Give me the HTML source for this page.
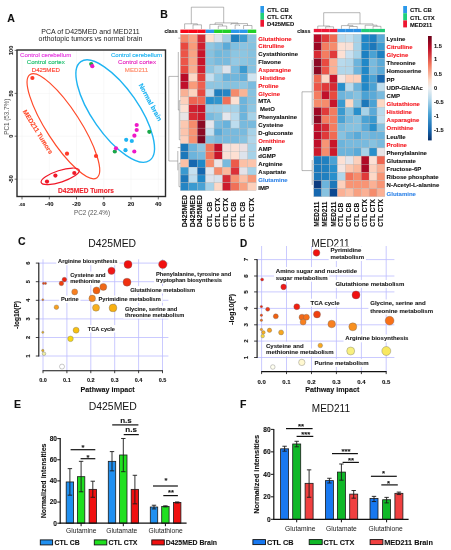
<!DOCTYPE html>
<html lang="en"><head><meta charset="utf-8"><title>Figure</title>
<style>html,body{margin:0;padding:0;background:#fff}body{width:451px;height:550px;overflow:hidden}svg{display:block;filter:blur(0.4px);font-family:'Liberation Sans', sans-serif}</style>
</head><body>
<svg width="451" height="550" viewBox="0 0 451 550">
<rect width="451" height="550" fill="#fff"/>
<text x="7.3" y="21.7" font-size="10.5" fill="#111" font-weight="bold" text-anchor="start" stroke="#111" stroke-width="0.1">A</text>
<text x="90.5" y="33.8" font-size="7" fill="#222" font-weight="normal" text-anchor="middle">PCA of D425MED and MED211</text>
<text x="90.5" y="41.3" font-size="7" fill="#222" font-weight="normal" text-anchor="middle">orthotopic tumors vs normal brain</text>
<line x1="22" y1="50" x2="22" y2="196.5" stroke="#f0f0f0" stroke-width="0.5"/>
<line x1="49.3" y1="50" x2="49.3" y2="196.5" stroke="#f0f0f0" stroke-width="0.5"/>
<line x1="76.5" y1="50" x2="76.5" y2="196.5" stroke="#f0f0f0" stroke-width="0.5"/>
<line x1="103.8" y1="50" x2="103.8" y2="196.5" stroke="#f0f0f0" stroke-width="0.5"/>
<line x1="131" y1="50" x2="131" y2="196.5" stroke="#f0f0f0" stroke-width="0.5"/>
<line x1="158.3" y1="50" x2="158.3" y2="196.5" stroke="#f0f0f0" stroke-width="0.5"/>
<line x1="17" y1="50.4" x2="165.5" y2="50.4" stroke="#f0f0f0" stroke-width="0.5"/>
<line x1="17" y1="93.4" x2="165.5" y2="93.4" stroke="#f0f0f0" stroke-width="0.5"/>
<line x1="17" y1="136.2" x2="165.5" y2="136.2" stroke="#f0f0f0" stroke-width="0.5"/>
<line x1="17" y1="179.2" x2="165.5" y2="179.2" stroke="#f0f0f0" stroke-width="0.5"/>
<ellipse cx="115.2" cy="111.1" rx="60.2" ry="23.1" fill="none" stroke="#1fb4f2" stroke-width="1.4" transform="rotate(55.2 115.2 111.1)"/>
<ellipse cx="63.4" cy="126.2" rx="61.5" ry="17" fill="none" stroke="#ff4a2a" stroke-width="1.2" transform="rotate(57.2 63.4 126.2)"/>
<ellipse cx="60.2" cy="176.3" rx="20" ry="5.8" fill="none" stroke="#f01828" stroke-width="1.2" transform="rotate(-18 60.2 176.3)"/>
<rect x="17.00" y="50.00" width="148.50" height="146.50" fill="none" stroke="#2a2a2a" stroke-width="1.4"/>
<line x1="22" y1="197" x2="22" y2="199.4" stroke="#333" stroke-width="0.7"/>
<text x="22" y="205.6" font-size="4.4" fill="#222" font-weight="bold" text-anchor="middle" stroke="#222" stroke-width="0.1">-60</text>
<line x1="49.3" y1="197" x2="49.3" y2="199.4" stroke="#333" stroke-width="0.7"/>
<text x="49.3" y="206.4" font-size="5.9" fill="#222" font-weight="bold" text-anchor="middle" stroke="#222" stroke-width="0.1">-40</text>
<line x1="76.5" y1="197" x2="76.5" y2="199.4" stroke="#333" stroke-width="0.7"/>
<text x="76.5" y="206.4" font-size="5.9" fill="#222" font-weight="bold" text-anchor="middle" stroke="#222" stroke-width="0.1">-20</text>
<line x1="103.8" y1="197" x2="103.8" y2="199.4" stroke="#333" stroke-width="0.7"/>
<text x="103.8" y="206.4" font-size="5.9" fill="#222" font-weight="bold" text-anchor="middle" stroke="#222" stroke-width="0.1">0</text>
<line x1="131" y1="197" x2="131" y2="199.4" stroke="#333" stroke-width="0.7"/>
<text x="131" y="206.4" font-size="5.9" fill="#222" font-weight="bold" text-anchor="middle" stroke="#222" stroke-width="0.1">20</text>
<line x1="158.3" y1="197" x2="158.3" y2="199.4" stroke="#333" stroke-width="0.7"/>
<text x="158.3" y="206.4" font-size="5.9" fill="#222" font-weight="bold" text-anchor="middle" stroke="#222" stroke-width="0.1">40</text>
<line x1="14.6" y1="50.4" x2="17" y2="50.4" stroke="#333" stroke-width="0.7"/>
<text x="13.5" y="50.4" font-size="5.6" fill="#222" font-weight="bold" text-anchor="middle" transform="rotate(-90 13.5 50.4)" stroke="#222" stroke-width="0.1">100</text>
<line x1="14.6" y1="93.4" x2="17" y2="93.4" stroke="#333" stroke-width="0.7"/>
<text x="13.5" y="93.4" font-size="5.6" fill="#222" font-weight="bold" text-anchor="middle" transform="rotate(-90 13.5 93.4)" stroke="#222" stroke-width="0.1">50</text>
<line x1="14.6" y1="136.2" x2="17" y2="136.2" stroke="#333" stroke-width="0.7"/>
<text x="13.5" y="136.2" font-size="5.6" fill="#222" font-weight="bold" text-anchor="middle" transform="rotate(-90 13.5 136.2)" stroke="#222" stroke-width="0.1">0</text>
<line x1="14.6" y1="179.2" x2="17" y2="179.2" stroke="#333" stroke-width="0.7"/>
<text x="13.5" y="179.2" font-size="5.6" fill="#222" font-weight="bold" text-anchor="middle" transform="rotate(-90 13.5 179.2)" stroke="#222" stroke-width="0.1">-50</text>
<text x="9.3" y="116.8" font-size="6.3" fill="#555" font-weight="normal" text-anchor="middle" transform="rotate(-90 9.3 116.8)">PC1 (53.7%)</text>
<text x="92" y="215.2" font-size="6.3" fill="#555" font-weight="normal" text-anchor="middle">PC2 (22.4%)</text>
<text x="45.7" y="56.8" font-size="6.1" fill="#e63ce0" font-weight="normal" text-anchor="middle" stroke="#e63ce0" stroke-width="0.15">Control cerebellum</text>
<text x="45.8" y="64.2" font-size="6.1" fill="#1fc070" font-weight="normal" text-anchor="middle" stroke="#1fc070" stroke-width="0.15">Control cortex</text>
<text x="45.8" y="71.8" font-size="6.1" fill="#ff4030" font-weight="normal" text-anchor="middle" stroke="#ff4030" stroke-width="0.15">D425MED</text>
<text x="136.5" y="57.1" font-size="6.1" fill="#1fb4f2" font-weight="normal" text-anchor="middle" stroke="#1fb4f2" stroke-width="0.15">Control cerebellum</text>
<text x="137" y="64.4" font-size="6.1" fill="#e628c0" font-weight="normal" text-anchor="middle" stroke="#e628c0" stroke-width="0.15">Control cortex</text>
<text x="136.5" y="71.5" font-size="6.1" fill="#ff8a68" font-weight="normal" text-anchor="middle" stroke="#ff8a68" stroke-width="0.15">MED211</text>
<text x="138.4" y="85.0" font-size="6.75" fill="#1fb4f2" font-weight="bold" text-anchor="start" transform="rotate(61.5 138.4 85.0)" stroke="#1fb4f2" stroke-width="0.1">Normal brain</text>
<text x="22.5" y="111.5" font-size="6.6" fill="#ff4a2a" font-weight="bold" text-anchor="start" transform="rotate(58 22.5 111.5)" stroke="#ff4a2a" stroke-width="0.1">MED211 Tumors</text>
<text x="58" y="192.6" font-size="6.6" fill="#f0202a" font-weight="bold" text-anchor="start" stroke="#f0202a" stroke-width="0.1">D425MED Tumors</text>
<circle cx="32.4" cy="78" r="2.1" fill="#ff3a28"/>
<circle cx="67" cy="153.7" r="2.1" fill="#ff3a28"/>
<circle cx="96" cy="156" r="2.1" fill="#ff3a28"/>
<circle cx="47" cy="181.6" r="2.1" fill="#f01828"/>
<circle cx="55.4" cy="175.6" r="2.1" fill="#f01828"/>
<circle cx="74.3" cy="173" r="2.1" fill="#f01828"/>
<circle cx="91.2" cy="64" r="2.1" fill="#18a848"/>
<circle cx="149.3" cy="131.8" r="2.1" fill="#18a848"/>
<circle cx="114.8" cy="151.5" r="2.1" fill="#18a848"/>
<circle cx="92.3" cy="66.2" r="2.1" fill="#ee18c8"/>
<circle cx="136.7" cy="125" r="2.1" fill="#ee18c8"/>
<circle cx="136.7" cy="130" r="2.1" fill="#ee18c8"/>
<circle cx="134.4" cy="135.7" r="2.1" fill="#ee18c8"/>
<circle cx="116" cy="148.3" r="2.1" fill="#ee18c8"/>
<circle cx="134.3" cy="151.5" r="2.1" fill="#ee18c8"/>
<circle cx="126.2" cy="139.8" r="2.1" fill="#1fb4f2"/>
<circle cx="131.8" cy="141" r="2.1" fill="#1fb4f2"/>
<circle cx="125.5" cy="150.2" r="2.1" fill="#1fb4f2"/>
<text x="160.2" y="18.1" font-size="10.5" fill="#111" font-weight="bold" text-anchor="start" stroke="#111" stroke-width="0.1">B</text>
<rect x="180.40" y="34.40" width="8.42" height="7.81" fill="#f4876a" stroke="#b4b4b4" stroke-width="0.3"/>
<rect x="188.82" y="34.40" width="8.42" height="7.81" fill="#f9a384" stroke="#b4b4b4" stroke-width="0.3"/>
<rect x="197.24" y="34.40" width="8.42" height="7.81" fill="#d42a35" stroke="#b4b4b4" stroke-width="0.3"/>
<rect x="205.66" y="34.40" width="8.42" height="7.81" fill="#fde0d0" stroke="#b4b4b4" stroke-width="0.3"/>
<rect x="214.08" y="34.40" width="8.42" height="7.81" fill="#dde3ec" stroke="#b4b4b4" stroke-width="0.3"/>
<rect x="222.50" y="34.40" width="8.42" height="7.81" fill="#a6cfe6" stroke="#b4b4b4" stroke-width="0.3"/>
<rect x="230.92" y="34.40" width="8.42" height="7.81" fill="#1f7fbf" stroke="#b4b4b4" stroke-width="0.3"/>
<rect x="239.34" y="34.40" width="8.42" height="7.81" fill="#3d9bd0" stroke="#b4b4b4" stroke-width="0.3"/>
<rect x="247.76" y="34.40" width="8.42" height="7.81" fill="#8cc4e1" stroke="#b4b4b4" stroke-width="0.3"/>
<rect x="180.40" y="42.21" width="8.42" height="7.81" fill="#e8473f" stroke="#b4b4b4" stroke-width="0.3"/>
<rect x="188.82" y="42.21" width="8.42" height="7.81" fill="#f99b7a" stroke="#b4b4b4" stroke-width="0.3"/>
<rect x="197.24" y="42.21" width="8.42" height="7.81" fill="#cf1f2e" stroke="#b4b4b4" stroke-width="0.3"/>
<rect x="205.66" y="42.21" width="8.42" height="7.81" fill="#8ec6e2" stroke="#b4b4b4" stroke-width="0.3"/>
<rect x="214.08" y="42.21" width="8.42" height="7.81" fill="#7fbde0" stroke="#b4b4b4" stroke-width="0.3"/>
<rect x="222.50" y="42.21" width="8.42" height="7.81" fill="#5aaad8" stroke="#b4b4b4" stroke-width="0.3"/>
<rect x="230.92" y="42.21" width="8.42" height="7.81" fill="#7fbfe0" stroke="#b4b4b4" stroke-width="0.3"/>
<rect x="239.34" y="42.21" width="8.42" height="7.81" fill="#8ac4e2" stroke="#b4b4b4" stroke-width="0.3"/>
<rect x="247.76" y="42.21" width="8.42" height="7.81" fill="#86c2e0" stroke="#b4b4b4" stroke-width="0.3"/>
<rect x="180.40" y="50.02" width="8.42" height="7.81" fill="#ec5548" stroke="#b4b4b4" stroke-width="0.3"/>
<rect x="188.82" y="50.02" width="8.42" height="7.81" fill="#f9a384" stroke="#b4b4b4" stroke-width="0.3"/>
<rect x="197.24" y="50.02" width="8.42" height="7.81" fill="#c8142a" stroke="#b4b4b4" stroke-width="0.3"/>
<rect x="205.66" y="50.02" width="8.42" height="7.81" fill="#86c2e0" stroke="#b4b4b4" stroke-width="0.3"/>
<rect x="214.08" y="50.02" width="8.42" height="7.81" fill="#70b8dc" stroke="#b4b4b4" stroke-width="0.3"/>
<rect x="222.50" y="50.02" width="8.42" height="7.81" fill="#78bade" stroke="#b4b4b4" stroke-width="0.3"/>
<rect x="230.92" y="50.02" width="8.42" height="7.81" fill="#8cc6e2" stroke="#b4b4b4" stroke-width="0.3"/>
<rect x="239.34" y="50.02" width="8.42" height="7.81" fill="#8cc6e2" stroke="#b4b4b4" stroke-width="0.3"/>
<rect x="247.76" y="50.02" width="8.42" height="7.81" fill="#86c2e0" stroke="#b4b4b4" stroke-width="0.3"/>
<rect x="180.40" y="57.83" width="8.42" height="7.81" fill="#ec5548" stroke="#b4b4b4" stroke-width="0.3"/>
<rect x="188.82" y="57.83" width="8.42" height="7.81" fill="#f9a888" stroke="#b4b4b4" stroke-width="0.3"/>
<rect x="197.24" y="57.83" width="8.42" height="7.81" fill="#c8142a" stroke="#b4b4b4" stroke-width="0.3"/>
<rect x="205.66" y="57.83" width="8.42" height="7.81" fill="#86c2e0" stroke="#b4b4b4" stroke-width="0.3"/>
<rect x="214.08" y="57.83" width="8.42" height="7.81" fill="#78bade" stroke="#b4b4b4" stroke-width="0.3"/>
<rect x="222.50" y="57.83" width="8.42" height="7.81" fill="#78bade" stroke="#b4b4b4" stroke-width="0.3"/>
<rect x="230.92" y="57.83" width="8.42" height="7.81" fill="#94c9e4" stroke="#b4b4b4" stroke-width="0.3"/>
<rect x="239.34" y="57.83" width="8.42" height="7.81" fill="#8cc6e2" stroke="#b4b4b4" stroke-width="0.3"/>
<rect x="247.76" y="57.83" width="8.42" height="7.81" fill="#86c2e0" stroke="#b4b4b4" stroke-width="0.3"/>
<rect x="180.40" y="65.64" width="8.42" height="7.81" fill="#e84a40" stroke="#b4b4b4" stroke-width="0.3"/>
<rect x="188.82" y="65.64" width="8.42" height="7.81" fill="#f9ae90" stroke="#b4b4b4" stroke-width="0.3"/>
<rect x="197.24" y="65.64" width="8.42" height="7.81" fill="#d02030" stroke="#b4b4b4" stroke-width="0.3"/>
<rect x="205.66" y="65.64" width="8.42" height="7.81" fill="#8ec6e2" stroke="#b4b4b4" stroke-width="0.3"/>
<rect x="214.08" y="65.64" width="8.42" height="7.81" fill="#a8d2e8" stroke="#b4b4b4" stroke-width="0.3"/>
<rect x="222.50" y="65.64" width="8.42" height="7.81" fill="#dde3ec" stroke="#b4b4b4" stroke-width="0.3"/>
<rect x="230.92" y="65.64" width="8.42" height="7.81" fill="#7abce0" stroke="#b4b4b4" stroke-width="0.3"/>
<rect x="239.34" y="65.64" width="8.42" height="7.81" fill="#3a9ad0" stroke="#b4b4b4" stroke-width="0.3"/>
<rect x="247.76" y="65.64" width="8.42" height="7.81" fill="#86c2e0" stroke="#b4b4b4" stroke-width="0.3"/>
<rect x="180.40" y="73.45" width="8.42" height="7.81" fill="#b80a28" stroke="#b4b4b4" stroke-width="0.3"/>
<rect x="188.82" y="73.45" width="8.42" height="7.81" fill="#fdd8c6" stroke="#b4b4b4" stroke-width="0.3"/>
<rect x="197.24" y="73.45" width="8.42" height="7.81" fill="#e0403c" stroke="#b4b4b4" stroke-width="0.3"/>
<rect x="205.66" y="73.45" width="8.42" height="7.81" fill="#c4dff0" stroke="#b4b4b4" stroke-width="0.3"/>
<rect x="214.08" y="73.45" width="8.42" height="7.81" fill="#90c8e4" stroke="#b4b4b4" stroke-width="0.3"/>
<rect x="222.50" y="73.45" width="8.42" height="7.81" fill="#68b2dc" stroke="#b4b4b4" stroke-width="0.3"/>
<rect x="230.92" y="73.45" width="8.42" height="7.81" fill="#70b6dc" stroke="#b4b4b4" stroke-width="0.3"/>
<rect x="239.34" y="73.45" width="8.42" height="7.81" fill="#60aeda" stroke="#b4b4b4" stroke-width="0.3"/>
<rect x="247.76" y="73.45" width="8.42" height="7.81" fill="#d0e4f0" stroke="#b4b4b4" stroke-width="0.3"/>
<rect x="180.40" y="81.26" width="8.42" height="7.81" fill="#c0102a" stroke="#b4b4b4" stroke-width="0.3"/>
<rect x="188.82" y="81.26" width="8.42" height="7.81" fill="#f99b7a" stroke="#b4b4b4" stroke-width="0.3"/>
<rect x="197.24" y="81.26" width="8.42" height="7.81" fill="#ee6050" stroke="#b4b4b4" stroke-width="0.3"/>
<rect x="205.66" y="81.26" width="8.42" height="7.81" fill="#8ec6e2" stroke="#b4b4b4" stroke-width="0.3"/>
<rect x="214.08" y="81.26" width="8.42" height="7.81" fill="#8ec6e2" stroke="#b4b4b4" stroke-width="0.3"/>
<rect x="222.50" y="81.26" width="8.42" height="7.81" fill="#86c2e0" stroke="#b4b4b4" stroke-width="0.3"/>
<rect x="230.92" y="81.26" width="8.42" height="7.81" fill="#86c2e0" stroke="#b4b4b4" stroke-width="0.3"/>
<rect x="239.34" y="81.26" width="8.42" height="7.81" fill="#8ec6e2" stroke="#b4b4b4" stroke-width="0.3"/>
<rect x="247.76" y="81.26" width="8.42" height="7.81" fill="#7abce0" stroke="#b4b4b4" stroke-width="0.3"/>
<rect x="180.40" y="89.07" width="8.42" height="7.81" fill="#f9b094" stroke="#b4b4b4" stroke-width="0.3"/>
<rect x="188.82" y="89.07" width="8.42" height="7.81" fill="#fcd4c0" stroke="#b4b4b4" stroke-width="0.3"/>
<rect x="197.24" y="89.07" width="8.42" height="7.81" fill="#e64840" stroke="#b4b4b4" stroke-width="0.3"/>
<rect x="205.66" y="89.07" width="8.42" height="7.81" fill="#c0dcee" stroke="#b4b4b4" stroke-width="0.3"/>
<rect x="214.08" y="89.07" width="8.42" height="7.81" fill="#1f7fbf" stroke="#b4b4b4" stroke-width="0.3"/>
<rect x="222.50" y="89.07" width="8.42" height="7.81" fill="#2585c4" stroke="#b4b4b4" stroke-width="0.3"/>
<rect x="230.92" y="89.07" width="8.42" height="7.81" fill="#f48a6c" stroke="#b4b4b4" stroke-width="0.3"/>
<rect x="239.34" y="89.07" width="8.42" height="7.81" fill="#f9b496" stroke="#b4b4b4" stroke-width="0.3"/>
<rect x="247.76" y="89.07" width="8.42" height="7.81" fill="#86c2e0" stroke="#b4b4b4" stroke-width="0.3"/>
<rect x="180.40" y="96.88" width="8.42" height="7.81" fill="#fdd0bc" stroke="#b4b4b4" stroke-width="0.3"/>
<rect x="188.82" y="96.88" width="8.42" height="7.81" fill="#ee6452" stroke="#b4b4b4" stroke-width="0.3"/>
<rect x="197.24" y="96.88" width="8.42" height="7.81" fill="#f06a56" stroke="#b4b4b4" stroke-width="0.3"/>
<rect x="205.66" y="96.88" width="8.42" height="7.81" fill="#2890cc" stroke="#b4b4b4" stroke-width="0.3"/>
<rect x="214.08" y="96.88" width="8.42" height="7.81" fill="#3096ce" stroke="#b4b4b4" stroke-width="0.3"/>
<rect x="222.50" y="96.88" width="8.42" height="7.81" fill="#f07058" stroke="#b4b4b4" stroke-width="0.3"/>
<rect x="230.92" y="96.88" width="8.42" height="7.81" fill="#fde0d2" stroke="#b4b4b4" stroke-width="0.3"/>
<rect x="239.34" y="96.88" width="8.42" height="7.81" fill="#6cb4dc" stroke="#b4b4b4" stroke-width="0.3"/>
<rect x="247.76" y="96.88" width="8.42" height="7.81" fill="#86c2e0" stroke="#b4b4b4" stroke-width="0.3"/>
<rect x="180.40" y="104.69" width="8.42" height="7.81" fill="#fde0d2" stroke="#b4b4b4" stroke-width="0.3"/>
<rect x="188.82" y="104.69" width="8.42" height="7.81" fill="#d02030" stroke="#b4b4b4" stroke-width="0.3"/>
<rect x="197.24" y="104.69" width="8.42" height="7.81" fill="#c8142a" stroke="#b4b4b4" stroke-width="0.3"/>
<rect x="205.66" y="104.69" width="8.42" height="7.81" fill="#9ccde6" stroke="#b4b4b4" stroke-width="0.3"/>
<rect x="214.08" y="104.69" width="8.42" height="7.81" fill="#9ccde6" stroke="#b4b4b4" stroke-width="0.3"/>
<rect x="222.50" y="104.69" width="8.42" height="7.81" fill="#a6d2e8" stroke="#b4b4b4" stroke-width="0.3"/>
<rect x="230.92" y="104.69" width="8.42" height="7.81" fill="#a6d2e8" stroke="#b4b4b4" stroke-width="0.3"/>
<rect x="239.34" y="104.69" width="8.42" height="7.81" fill="#6cb4dc" stroke="#b4b4b4" stroke-width="0.3"/>
<rect x="247.76" y="104.69" width="8.42" height="7.81" fill="#8ec6e2" stroke="#b4b4b4" stroke-width="0.3"/>
<rect x="180.40" y="112.50" width="8.42" height="7.81" fill="#e8e4e6" stroke="#b4b4b4" stroke-width="0.3"/>
<rect x="188.82" y="112.50" width="8.42" height="7.81" fill="#d62a34" stroke="#b4b4b4" stroke-width="0.3"/>
<rect x="197.24" y="112.50" width="8.42" height="7.81" fill="#cc1a2c" stroke="#b4b4b4" stroke-width="0.3"/>
<rect x="205.66" y="112.50" width="8.42" height="7.81" fill="#78bade" stroke="#b4b4b4" stroke-width="0.3"/>
<rect x="214.08" y="112.50" width="8.42" height="7.81" fill="#86c2e0" stroke="#b4b4b4" stroke-width="0.3"/>
<rect x="222.50" y="112.50" width="8.42" height="7.81" fill="#e4e6ec" stroke="#b4b4b4" stroke-width="0.3"/>
<rect x="230.92" y="112.50" width="8.42" height="7.81" fill="#b8daec" stroke="#b4b4b4" stroke-width="0.3"/>
<rect x="239.34" y="112.50" width="8.42" height="7.81" fill="#6cb4dc" stroke="#b4b4b4" stroke-width="0.3"/>
<rect x="247.76" y="112.50" width="8.42" height="7.81" fill="#a6d2e8" stroke="#b4b4b4" stroke-width="0.3"/>
<rect x="180.40" y="120.31" width="8.42" height="7.81" fill="#fcc8b0" stroke="#b4b4b4" stroke-width="0.3"/>
<rect x="188.82" y="120.31" width="8.42" height="7.81" fill="#f68c6c" stroke="#b4b4b4" stroke-width="0.3"/>
<rect x="197.24" y="120.31" width="8.42" height="7.81" fill="#8c0a24" stroke="#b4b4b4" stroke-width="0.3"/>
<rect x="205.66" y="120.31" width="8.42" height="7.81" fill="#e4e6ec" stroke="#b4b4b4" stroke-width="0.3"/>
<rect x="214.08" y="120.31" width="8.42" height="7.81" fill="#78bade" stroke="#b4b4b4" stroke-width="0.3"/>
<rect x="222.50" y="120.31" width="8.42" height="7.81" fill="#68b2dc" stroke="#b4b4b4" stroke-width="0.3"/>
<rect x="230.92" y="120.31" width="8.42" height="7.81" fill="#bcdcee" stroke="#b4b4b4" stroke-width="0.3"/>
<rect x="239.34" y="120.31" width="8.42" height="7.81" fill="#78bade" stroke="#b4b4b4" stroke-width="0.3"/>
<rect x="247.76" y="120.31" width="8.42" height="7.81" fill="#78bade" stroke="#b4b4b4" stroke-width="0.3"/>
<rect x="180.40" y="128.12" width="8.42" height="7.81" fill="#fcc4ac" stroke="#b4b4b4" stroke-width="0.3"/>
<rect x="188.82" y="128.12" width="8.42" height="7.81" fill="#f89474" stroke="#b4b4b4" stroke-width="0.3"/>
<rect x="197.24" y="128.12" width="8.42" height="7.81" fill="#8c0a24" stroke="#b4b4b4" stroke-width="0.3"/>
<rect x="205.66" y="128.12" width="8.42" height="7.81" fill="#c4e0f0" stroke="#b4b4b4" stroke-width="0.3"/>
<rect x="214.08" y="128.12" width="8.42" height="7.81" fill="#5aaad8" stroke="#b4b4b4" stroke-width="0.3"/>
<rect x="222.50" y="128.12" width="8.42" height="7.81" fill="#78bade" stroke="#b4b4b4" stroke-width="0.3"/>
<rect x="230.92" y="128.12" width="8.42" height="7.81" fill="#78bade" stroke="#b4b4b4" stroke-width="0.3"/>
<rect x="239.34" y="128.12" width="8.42" height="7.81" fill="#78bade" stroke="#b4b4b4" stroke-width="0.3"/>
<rect x="247.76" y="128.12" width="8.42" height="7.81" fill="#a6d2e8" stroke="#b4b4b4" stroke-width="0.3"/>
<rect x="180.40" y="135.93" width="8.42" height="7.81" fill="#fdd0bc" stroke="#b4b4b4" stroke-width="0.3"/>
<rect x="188.82" y="135.93" width="8.42" height="7.81" fill="#f89070" stroke="#b4b4b4" stroke-width="0.3"/>
<rect x="197.24" y="135.93" width="8.42" height="7.81" fill="#7c0620" stroke="#b4b4b4" stroke-width="0.3"/>
<rect x="205.66" y="135.93" width="8.42" height="7.81" fill="#86c2e0" stroke="#b4b4b4" stroke-width="0.3"/>
<rect x="214.08" y="135.93" width="8.42" height="7.81" fill="#78bade" stroke="#b4b4b4" stroke-width="0.3"/>
<rect x="222.50" y="135.93" width="8.42" height="7.81" fill="#78bade" stroke="#b4b4b4" stroke-width="0.3"/>
<rect x="230.92" y="135.93" width="8.42" height="7.81" fill="#78bade" stroke="#b4b4b4" stroke-width="0.3"/>
<rect x="239.34" y="135.93" width="8.42" height="7.81" fill="#86c2e0" stroke="#b4b4b4" stroke-width="0.3"/>
<rect x="247.76" y="135.93" width="8.42" height="7.81" fill="#b0d6ea" stroke="#b4b4b4" stroke-width="0.3"/>
<rect x="180.40" y="143.74" width="8.42" height="7.81" fill="#1c78ba" stroke="#b4b4b4" stroke-width="0.3"/>
<rect x="188.82" y="143.74" width="8.42" height="7.81" fill="#6cb4dc" stroke="#b4b4b4" stroke-width="0.3"/>
<rect x="197.24" y="143.74" width="8.42" height="7.81" fill="#8ec6e2" stroke="#b4b4b4" stroke-width="0.3"/>
<rect x="205.66" y="143.74" width="8.42" height="7.81" fill="#f2745a" stroke="#b4b4b4" stroke-width="0.3"/>
<rect x="214.08" y="143.74" width="8.42" height="7.81" fill="#c0102a" stroke="#b4b4b4" stroke-width="0.3"/>
<rect x="222.50" y="143.74" width="8.42" height="7.81" fill="#f4e0dc" stroke="#b4b4b4" stroke-width="0.3"/>
<rect x="230.92" y="143.74" width="8.42" height="7.81" fill="#fae0d6" stroke="#b4b4b4" stroke-width="0.3"/>
<rect x="239.34" y="143.74" width="8.42" height="7.81" fill="#ece0e2" stroke="#b4b4b4" stroke-width="0.3"/>
<rect x="247.76" y="143.74" width="8.42" height="7.81" fill="#a6d2e8" stroke="#b4b4b4" stroke-width="0.3"/>
<rect x="180.40" y="151.55" width="8.42" height="7.81" fill="#1c78ba" stroke="#b4b4b4" stroke-width="0.3"/>
<rect x="188.82" y="151.55" width="8.42" height="7.81" fill="#6cb4dc" stroke="#b4b4b4" stroke-width="0.3"/>
<rect x="197.24" y="151.55" width="8.42" height="7.81" fill="#78bade" stroke="#b4b4b4" stroke-width="0.3"/>
<rect x="205.66" y="151.55" width="8.42" height="7.81" fill="#f2745a" stroke="#b4b4b4" stroke-width="0.3"/>
<rect x="214.08" y="151.55" width="8.42" height="7.81" fill="#c8142a" stroke="#b4b4b4" stroke-width="0.3"/>
<rect x="222.50" y="151.55" width="8.42" height="7.81" fill="#fae0d6" stroke="#b4b4b4" stroke-width="0.3"/>
<rect x="230.92" y="151.55" width="8.42" height="7.81" fill="#fde0d2" stroke="#b4b4b4" stroke-width="0.3"/>
<rect x="239.34" y="151.55" width="8.42" height="7.81" fill="#dde3ec" stroke="#b4b4b4" stroke-width="0.3"/>
<rect x="247.76" y="151.55" width="8.42" height="7.81" fill="#a6d2e8" stroke="#b4b4b4" stroke-width="0.3"/>
<rect x="180.40" y="159.36" width="8.42" height="7.81" fill="#fcc0a6" stroke="#b4b4b4" stroke-width="0.3"/>
<rect x="188.82" y="159.36" width="8.42" height="7.81" fill="#1668b0" stroke="#b4b4b4" stroke-width="0.3"/>
<rect x="197.24" y="159.36" width="8.42" height="7.81" fill="#2088c8" stroke="#b4b4b4" stroke-width="0.3"/>
<rect x="205.66" y="159.36" width="8.42" height="7.81" fill="#f68c6c" stroke="#b4b4b4" stroke-width="0.3"/>
<rect x="214.08" y="159.36" width="8.42" height="7.81" fill="#ece4e6" stroke="#b4b4b4" stroke-width="0.3"/>
<rect x="222.50" y="159.36" width="8.42" height="7.81" fill="#78bade" stroke="#b4b4b4" stroke-width="0.3"/>
<rect x="230.92" y="159.36" width="8.42" height="7.81" fill="#ec5a4a" stroke="#b4b4b4" stroke-width="0.3"/>
<rect x="239.34" y="159.36" width="8.42" height="7.81" fill="#fcc0a6" stroke="#b4b4b4" stroke-width="0.3"/>
<rect x="247.76" y="159.36" width="8.42" height="7.81" fill="#fcc4ac" stroke="#b4b4b4" stroke-width="0.3"/>
<rect x="180.40" y="167.17" width="8.42" height="7.81" fill="#3a9ad0" stroke="#b4b4b4" stroke-width="0.3"/>
<rect x="188.82" y="167.17" width="8.42" height="7.81" fill="#c4e0f0" stroke="#b4b4b4" stroke-width="0.3"/>
<rect x="197.24" y="167.17" width="8.42" height="7.81" fill="#1668b0" stroke="#b4b4b4" stroke-width="0.3"/>
<rect x="205.66" y="167.17" width="8.42" height="7.81" fill="#e4e6ec" stroke="#b4b4b4" stroke-width="0.3"/>
<rect x="214.08" y="167.17" width="8.42" height="7.81" fill="#f68c6c" stroke="#b4b4b4" stroke-width="0.3"/>
<rect x="222.50" y="167.17" width="8.42" height="7.81" fill="#fbb89c" stroke="#b4b4b4" stroke-width="0.3"/>
<rect x="230.92" y="167.17" width="8.42" height="7.81" fill="#dc3038" stroke="#b4b4b4" stroke-width="0.3"/>
<rect x="239.34" y="167.17" width="8.42" height="7.81" fill="#e4e2e8" stroke="#b4b4b4" stroke-width="0.3"/>
<rect x="247.76" y="167.17" width="8.42" height="7.81" fill="#a6d2e8" stroke="#b4b4b4" stroke-width="0.3"/>
<rect x="180.40" y="174.98" width="8.42" height="7.81" fill="#1c78ba" stroke="#b4b4b4" stroke-width="0.3"/>
<rect x="188.82" y="174.98" width="8.42" height="7.81" fill="#bcdcee" stroke="#b4b4b4" stroke-width="0.3"/>
<rect x="197.24" y="174.98" width="8.42" height="7.81" fill="#2088c8" stroke="#b4b4b4" stroke-width="0.3"/>
<rect x="205.66" y="174.98" width="8.42" height="7.81" fill="#dde3ec" stroke="#b4b4b4" stroke-width="0.3"/>
<rect x="214.08" y="174.98" width="8.42" height="7.81" fill="#d8e2ec" stroke="#b4b4b4" stroke-width="0.3"/>
<rect x="222.50" y="174.98" width="8.42" height="7.81" fill="#d62a34" stroke="#b4b4b4" stroke-width="0.3"/>
<rect x="230.92" y="174.98" width="8.42" height="7.81" fill="#f89474" stroke="#b4b4b4" stroke-width="0.3"/>
<rect x="239.34" y="174.98" width="8.42" height="7.81" fill="#fcc0a6" stroke="#b4b4b4" stroke-width="0.3"/>
<rect x="247.76" y="174.98" width="8.42" height="7.81" fill="#f89878" stroke="#b4b4b4" stroke-width="0.3"/>
<rect x="180.40" y="182.79" width="8.42" height="7.81" fill="#2585c4" stroke="#b4b4b4" stroke-width="0.3"/>
<rect x="188.82" y="182.79" width="8.42" height="7.81" fill="#3a9ad0" stroke="#b4b4b4" stroke-width="0.3"/>
<rect x="197.24" y="182.79" width="8.42" height="7.81" fill="#4aa2d4" stroke="#b4b4b4" stroke-width="0.3"/>
<rect x="205.66" y="182.79" width="8.42" height="7.81" fill="#a6d2e8" stroke="#b4b4b4" stroke-width="0.3"/>
<rect x="214.08" y="182.79" width="8.42" height="7.81" fill="#fdd8c6" stroke="#b4b4b4" stroke-width="0.3"/>
<rect x="222.50" y="182.79" width="8.42" height="7.81" fill="#cc1a2c" stroke="#b4b4b4" stroke-width="0.3"/>
<rect x="230.92" y="182.79" width="8.42" height="7.81" fill="#f07058" stroke="#b4b4b4" stroke-width="0.3"/>
<rect x="239.34" y="182.79" width="8.42" height="7.81" fill="#f8a080" stroke="#b4b4b4" stroke-width="0.3"/>
<rect x="247.76" y="182.79" width="8.42" height="7.81" fill="#fcd0bc" stroke="#b4b4b4" stroke-width="0.3"/>
<rect x="180.40" y="29.60" width="8.47" height="3.40" fill="#f80818"/>
<rect x="188.82" y="29.60" width="8.47" height="3.40" fill="#f80818"/>
<rect x="197.24" y="29.60" width="8.47" height="3.40" fill="#f80818"/>
<rect x="205.66" y="29.60" width="8.47" height="3.40" fill="#2b98ea"/>
<rect x="214.08" y="29.60" width="8.47" height="3.40" fill="#22d028"/>
<rect x="222.50" y="29.60" width="8.47" height="3.40" fill="#22d028"/>
<rect x="230.92" y="29.60" width="8.47" height="3.40" fill="#2b98ea"/>
<rect x="239.34" y="29.60" width="8.47" height="3.40" fill="#2b98ea"/>
<rect x="247.76" y="29.60" width="8.47" height="3.40" fill="#22d028"/>
<text x="258.3" y="40.56" font-size="6.0" fill="#f5141c" font-weight="bold" text-anchor="start" stroke="#f5141c" stroke-width="0.1">Glutathione</text>
<text x="258.3" y="48.42" font-size="6.0" fill="#f5141c" font-weight="bold" text-anchor="start" stroke="#f5141c" stroke-width="0.1">Citrulline</text>
<text x="258.3" y="56.27" font-size="6.0" fill="#111" font-weight="bold" text-anchor="start" stroke="#111" stroke-width="0.1">Cystathionine</text>
<text x="258.3" y="64.13" font-size="6.0" fill="#111" font-weight="bold" text-anchor="start" stroke="#111" stroke-width="0.1">Flavone</text>
<text x="258.3" y="71.99" font-size="6.0" fill="#f5141c" font-weight="bold" text-anchor="start" stroke="#f5141c" stroke-width="0.1">Asparagine</text>
<text x="258.3" y="79.84" font-size="6.0" fill="#f5141c" font-weight="bold" text-anchor="start" stroke="#f5141c" stroke-width="0.1"> Histidine</text>
<text x="258.3" y="87.7" font-size="6.0" fill="#f5141c" font-weight="bold" text-anchor="start" stroke="#f5141c" stroke-width="0.1">Proline</text>
<text x="258.3" y="95.56" font-size="6.0" fill="#f5141c" font-weight="bold" text-anchor="start" stroke="#f5141c" stroke-width="0.1">Glycine</text>
<text x="258.3" y="103.42" font-size="6.0" fill="#111" font-weight="bold" text-anchor="start" stroke="#111" stroke-width="0.1">MTA</text>
<text x="258.3" y="111.27" font-size="6.0" fill="#111" font-weight="bold" text-anchor="start" stroke="#111" stroke-width="0.1"> MetO</text>
<text x="258.3" y="119.13" font-size="6.0" fill="#111" font-weight="bold" text-anchor="start" stroke="#111" stroke-width="0.1">Phenyalanine</text>
<text x="258.3" y="126.99" font-size="6.0" fill="#111" font-weight="bold" text-anchor="start" stroke="#111" stroke-width="0.1">Cysteine</text>
<text x="258.3" y="134.84" font-size="6.0" fill="#111" font-weight="bold" text-anchor="start" stroke="#111" stroke-width="0.1">D-gluconate</text>
<text x="258.3" y="142.7" font-size="6.0" fill="#f5141c" font-weight="bold" text-anchor="start" stroke="#f5141c" stroke-width="0.1">Ornithine</text>
<text x="258.3" y="150.56" font-size="6.0" fill="#111" font-weight="bold" text-anchor="start" stroke="#111" stroke-width="0.1">AMP</text>
<text x="258.3" y="158.41" font-size="6.0" fill="#111" font-weight="bold" text-anchor="start" stroke="#111" stroke-width="0.1">dGMP</text>
<text x="258.3" y="166.27" font-size="6.0" fill="#111" font-weight="bold" text-anchor="start" stroke="#111" stroke-width="0.1">Arginine</text>
<text x="258.3" y="174.13" font-size="6.0" fill="#111" font-weight="bold" text-anchor="start" stroke="#111" stroke-width="0.1">Aspartate</text>
<text x="258.3" y="181.99" font-size="6.0" fill="#3285e8" font-weight="bold" text-anchor="start" stroke="#3285e8" stroke-width="0.1">Glutamine</text>
<text x="258.3" y="189.84" font-size="6.0" fill="#111" font-weight="bold" text-anchor="start" stroke="#111" stroke-width="0.1">IMP</text>
<text x="186.72" y="227.2" font-size="7.0" fill="#111" font-weight="bold" text-anchor="start" transform="rotate(-90 186.72 227.2)" stroke="#111" stroke-width="0.1">D425MED</text>
<text x="194.52" y="227.2" font-size="7.0" fill="#111" font-weight="bold" text-anchor="start" transform="rotate(-90 194.52 227.2)" stroke="#111" stroke-width="0.1">D425MED</text>
<text x="202.32" y="227.2" font-size="7.0" fill="#111" font-weight="bold" text-anchor="start" transform="rotate(-90 202.32 227.2)" stroke="#111" stroke-width="0.1">D425MED</text>
<text x="212.12" y="227.2" font-size="7.0" fill="#111" font-weight="bold" text-anchor="start" transform="rotate(-90 212.12 227.2)" stroke="#111" stroke-width="0.1">CTL CB</text>
<text x="219.52" y="227.2" font-size="7.0" fill="#111" font-weight="bold" text-anchor="start" transform="rotate(-90 219.52 227.2)" stroke="#111" stroke-width="0.1">CTL CTX</text>
<text x="228.12" y="227.2" font-size="7.0" fill="#111" font-weight="bold" text-anchor="start" transform="rotate(-90 228.12 227.2)" stroke="#111" stroke-width="0.1">CTL CTX</text>
<text x="235.72" y="227.2" font-size="7.0" fill="#111" font-weight="bold" text-anchor="start" transform="rotate(-90 235.72 227.2)" stroke="#111" stroke-width="0.1">CTL CB</text>
<text x="244.82" y="227.2" font-size="7.0" fill="#111" font-weight="bold" text-anchor="start" transform="rotate(-90 244.82 227.2)" stroke="#111" stroke-width="0.1">CTL CB</text>
<text x="254.02" y="227.2" font-size="7.0" fill="#111" font-weight="bold" text-anchor="start" transform="rotate(-90 254.02 227.2)" stroke="#111" stroke-width="0.1">CTL CTX</text>
<text x="164.4" y="33.3" font-size="5.3" fill="#111" font-weight="bold" text-anchor="start" stroke="#111" stroke-width="0.1">class</text>
<rect x="260.40" y="6.00" width="3.60" height="6.90" fill="#2b98ea"/>
<rect x="260.40" y="12.90" width="3.60" height="6.90" fill="#1fd07a"/>
<rect x="260.40" y="19.80" width="3.60" height="6.90" fill="#ee1530"/>
<text x="267" y="11.7" font-size="6.0" fill="#111" font-weight="bold" text-anchor="start" stroke="#111" stroke-width="0.1">CTL CB</text>
<text x="267" y="19.2" font-size="6.0" fill="#111" font-weight="bold" text-anchor="start" stroke="#111" stroke-width="0.1">CTL CTX</text>
<text x="267" y="25.9" font-size="5.9" fill="#111" font-weight="bold" text-anchor="start" stroke="#111" stroke-width="0.1">D425MED</text>
<path d="M191.3 23.8V7.2H223.7V22.9 M184.61 29V23.8H197.4V24.8 M193.03 29V24.8H201.45000000000002V29 M215.1 24.4V22.9H238V23.6 M209.87 29V24.4H222.5V26 M218.29000000000002 29V26H226.71V29 M231 25V23.6H247.5V25.5 M235.13 29V25H239.55V26 M243.55 29V25.5H251.97V29" fill="none" stroke="#707070" stroke-width="0.5"/>
<path d="M178.3 76.4H168.8V161H177.8 M177.8 151V170.3 M180.4 147.59H177.8 M180.4 186.69H179V163.23000000000002H180.4 M178.3 52V110 M180.4 38.11H178.3 M180.4 139.77H179.3V100.67H180.4 M179.3 110H178.3" fill="none" stroke="#707070" stroke-width="0.5"/>
<rect x="313.80" y="34.20" width="7.90" height="8.12" fill="#b80a28" stroke="#b4b4b4" stroke-width="0.3"/>
<rect x="321.70" y="34.20" width="7.90" height="8.12" fill="#e03a3a" stroke="#b4b4b4" stroke-width="0.3"/>
<rect x="329.60" y="34.20" width="7.90" height="8.12" fill="#f06a52" stroke="#b4b4b4" stroke-width="0.3"/>
<rect x="337.50" y="34.20" width="7.90" height="8.12" fill="#b8daec" stroke="#b4b4b4" stroke-width="0.3"/>
<rect x="345.40" y="34.20" width="7.90" height="8.12" fill="#c0deee" stroke="#b4b4b4" stroke-width="0.3"/>
<rect x="353.30" y="34.20" width="7.90" height="8.12" fill="#a6d2e8" stroke="#b4b4b4" stroke-width="0.3"/>
<rect x="361.20" y="34.20" width="7.90" height="8.12" fill="#2088c8" stroke="#b4b4b4" stroke-width="0.3"/>
<rect x="369.10" y="34.20" width="7.90" height="8.12" fill="#1c80c2" stroke="#b4b4b4" stroke-width="0.3"/>
<rect x="377.00" y="34.20" width="7.90" height="8.12" fill="#5aaad8" stroke="#b4b4b4" stroke-width="0.3"/>
<rect x="313.80" y="42.33" width="7.90" height="8.12" fill="#9c0824" stroke="#b4b4b4" stroke-width="0.3"/>
<rect x="321.70" y="42.33" width="7.90" height="8.12" fill="#f47c60" stroke="#b4b4b4" stroke-width="0.3"/>
<rect x="329.60" y="42.33" width="7.90" height="8.12" fill="#f68c6c" stroke="#b4b4b4" stroke-width="0.3"/>
<rect x="337.50" y="42.33" width="7.90" height="8.12" fill="#fce0d4" stroke="#b4b4b4" stroke-width="0.3"/>
<rect x="345.40" y="42.33" width="7.90" height="8.12" fill="#f6e0d8" stroke="#b4b4b4" stroke-width="0.3"/>
<rect x="353.30" y="42.33" width="7.90" height="8.12" fill="#a6d2e8" stroke="#b4b4b4" stroke-width="0.3"/>
<rect x="361.20" y="42.33" width="7.90" height="8.12" fill="#2088c8" stroke="#b4b4b4" stroke-width="0.3"/>
<rect x="369.10" y="42.33" width="7.90" height="8.12" fill="#1c78ba" stroke="#b4b4b4" stroke-width="0.3"/>
<rect x="377.00" y="42.33" width="7.90" height="8.12" fill="#3a9ad0" stroke="#b4b4b4" stroke-width="0.3"/>
<rect x="313.80" y="50.45" width="7.90" height="8.12" fill="#d82c34" stroke="#b4b4b4" stroke-width="0.3"/>
<rect x="321.70" y="50.45" width="7.90" height="8.12" fill="#f47c60" stroke="#b4b4b4" stroke-width="0.3"/>
<rect x="329.60" y="50.45" width="7.90" height="8.12" fill="#e03a3a" stroke="#b4b4b4" stroke-width="0.3"/>
<rect x="337.50" y="50.45" width="7.90" height="8.12" fill="#fce0d4" stroke="#b4b4b4" stroke-width="0.3"/>
<rect x="345.40" y="50.45" width="7.90" height="8.12" fill="#c8e0f0" stroke="#b4b4b4" stroke-width="0.3"/>
<rect x="353.30" y="50.45" width="7.90" height="8.12" fill="#a6d2e8" stroke="#b4b4b4" stroke-width="0.3"/>
<rect x="361.20" y="50.45" width="7.90" height="8.12" fill="#1c80c2" stroke="#b4b4b4" stroke-width="0.3"/>
<rect x="369.10" y="50.45" width="7.90" height="8.12" fill="#4aa2d4" stroke="#b4b4b4" stroke-width="0.3"/>
<rect x="377.00" y="50.45" width="7.90" height="8.12" fill="#1c80c2" stroke="#b4b4b4" stroke-width="0.3"/>
<rect x="313.80" y="58.58" width="7.90" height="8.12" fill="#8c0a24" stroke="#b4b4b4" stroke-width="0.3"/>
<rect x="321.70" y="58.58" width="7.90" height="8.12" fill="#e84a40" stroke="#b4b4b4" stroke-width="0.3"/>
<rect x="329.60" y="58.58" width="7.90" height="8.12" fill="#fbb094" stroke="#b4b4b4" stroke-width="0.3"/>
<rect x="337.50" y="58.58" width="7.90" height="8.12" fill="#b8daec" stroke="#b4b4b4" stroke-width="0.3"/>
<rect x="345.40" y="58.58" width="7.90" height="8.12" fill="#b0d6ea" stroke="#b4b4b4" stroke-width="0.3"/>
<rect x="353.30" y="58.58" width="7.90" height="8.12" fill="#6cb4dc" stroke="#b4b4b4" stroke-width="0.3"/>
<rect x="361.20" y="58.58" width="7.90" height="8.12" fill="#2088c8" stroke="#b4b4b4" stroke-width="0.3"/>
<rect x="369.10" y="58.58" width="7.90" height="8.12" fill="#78bade" stroke="#b4b4b4" stroke-width="0.3"/>
<rect x="377.00" y="58.58" width="7.90" height="8.12" fill="#5aaad8" stroke="#b4b4b4" stroke-width="0.3"/>
<rect x="313.80" y="66.70" width="7.90" height="8.12" fill="#8c0a24" stroke="#b4b4b4" stroke-width="0.3"/>
<rect x="321.70" y="66.70" width="7.90" height="8.12" fill="#ec5548" stroke="#b4b4b4" stroke-width="0.3"/>
<rect x="329.60" y="66.70" width="7.90" height="8.12" fill="#fbb094" stroke="#b4b4b4" stroke-width="0.3"/>
<rect x="337.50" y="66.70" width="7.90" height="8.12" fill="#b0d6ea" stroke="#b4b4b4" stroke-width="0.3"/>
<rect x="345.40" y="66.70" width="7.90" height="8.12" fill="#b0d6ea" stroke="#b4b4b4" stroke-width="0.3"/>
<rect x="353.30" y="66.70" width="7.90" height="8.12" fill="#6cb4dc" stroke="#b4b4b4" stroke-width="0.3"/>
<rect x="361.20" y="66.70" width="7.90" height="8.12" fill="#2088c8" stroke="#b4b4b4" stroke-width="0.3"/>
<rect x="369.10" y="66.70" width="7.90" height="8.12" fill="#78bade" stroke="#b4b4b4" stroke-width="0.3"/>
<rect x="377.00" y="66.70" width="7.90" height="8.12" fill="#5aaad8" stroke="#b4b4b4" stroke-width="0.3"/>
<rect x="313.80" y="74.83" width="7.90" height="8.12" fill="#f06a52" stroke="#b4b4b4" stroke-width="0.3"/>
<rect x="321.70" y="74.83" width="7.90" height="8.12" fill="#fdd8c6" stroke="#b4b4b4" stroke-width="0.3"/>
<rect x="329.60" y="74.83" width="7.90" height="8.12" fill="#c8142a" stroke="#b4b4b4" stroke-width="0.3"/>
<rect x="337.50" y="74.83" width="7.90" height="8.12" fill="#f4e4e0" stroke="#b4b4b4" stroke-width="0.3"/>
<rect x="345.40" y="74.83" width="7.90" height="8.12" fill="#fdd0bc" stroke="#b4b4b4" stroke-width="0.3"/>
<rect x="353.30" y="74.83" width="7.90" height="8.12" fill="#fcd0bc" stroke="#b4b4b4" stroke-width="0.3"/>
<rect x="361.20" y="74.83" width="7.90" height="8.12" fill="#2088c8" stroke="#b4b4b4" stroke-width="0.3"/>
<rect x="369.10" y="74.83" width="7.90" height="8.12" fill="#4aa2d4" stroke="#b4b4b4" stroke-width="0.3"/>
<rect x="377.00" y="74.83" width="7.90" height="8.12" fill="#1668b0" stroke="#b4b4b4" stroke-width="0.3"/>
<rect x="313.80" y="82.95" width="7.90" height="8.12" fill="#ec5548" stroke="#b4b4b4" stroke-width="0.3"/>
<rect x="321.70" y="82.95" width="7.90" height="8.12" fill="#e03a3a" stroke="#b4b4b4" stroke-width="0.3"/>
<rect x="329.60" y="82.95" width="7.90" height="8.12" fill="#d62a34" stroke="#b4b4b4" stroke-width="0.3"/>
<rect x="337.50" y="82.95" width="7.90" height="8.12" fill="#2890cc" stroke="#b4b4b4" stroke-width="0.3"/>
<rect x="345.40" y="82.95" width="7.90" height="8.12" fill="#b8daec" stroke="#b4b4b4" stroke-width="0.3"/>
<rect x="353.30" y="82.95" width="7.90" height="8.12" fill="#6cb4dc" stroke="#b4b4b4" stroke-width="0.3"/>
<rect x="361.20" y="82.95" width="7.90" height="8.12" fill="#2088c8" stroke="#b4b4b4" stroke-width="0.3"/>
<rect x="369.10" y="82.95" width="7.90" height="8.12" fill="#4aa2d4" stroke="#b4b4b4" stroke-width="0.3"/>
<rect x="377.00" y="82.95" width="7.90" height="8.12" fill="#c0deee" stroke="#b4b4b4" stroke-width="0.3"/>
<rect x="313.80" y="91.08" width="7.90" height="8.12" fill="#f47c60" stroke="#b4b4b4" stroke-width="0.3"/>
<rect x="321.70" y="91.08" width="7.90" height="8.12" fill="#c0102a" stroke="#b4b4b4" stroke-width="0.3"/>
<rect x="329.60" y="91.08" width="7.90" height="8.12" fill="#e84a40" stroke="#b4b4b4" stroke-width="0.3"/>
<rect x="337.50" y="91.08" width="7.90" height="8.12" fill="#6cb4dc" stroke="#b4b4b4" stroke-width="0.3"/>
<rect x="345.40" y="91.08" width="7.90" height="8.12" fill="#78bade" stroke="#b4b4b4" stroke-width="0.3"/>
<rect x="353.30" y="91.08" width="7.90" height="8.12" fill="#86c2e0" stroke="#b4b4b4" stroke-width="0.3"/>
<rect x="361.20" y="91.08" width="7.90" height="8.12" fill="#4aa2d4" stroke="#b4b4b4" stroke-width="0.3"/>
<rect x="369.10" y="91.08" width="7.90" height="8.12" fill="#5aaad8" stroke="#b4b4b4" stroke-width="0.3"/>
<rect x="377.00" y="91.08" width="7.90" height="8.12" fill="#78bade" stroke="#b4b4b4" stroke-width="0.3"/>
<rect x="313.80" y="99.20" width="7.90" height="8.12" fill="#f68c6c" stroke="#b4b4b4" stroke-width="0.3"/>
<rect x="321.70" y="99.20" width="7.90" height="8.12" fill="#f68c6c" stroke="#b4b4b4" stroke-width="0.3"/>
<rect x="329.60" y="99.20" width="7.90" height="8.12" fill="#c8142a" stroke="#b4b4b4" stroke-width="0.3"/>
<rect x="337.50" y="99.20" width="7.90" height="8.12" fill="#3a9ad0" stroke="#b4b4b4" stroke-width="0.3"/>
<rect x="345.40" y="99.20" width="7.90" height="8.12" fill="#fcd8c4" stroke="#b4b4b4" stroke-width="0.3"/>
<rect x="353.30" y="99.20" width="7.90" height="8.12" fill="#86c2e0" stroke="#b4b4b4" stroke-width="0.3"/>
<rect x="361.20" y="99.20" width="7.90" height="8.12" fill="#1c78ba" stroke="#b4b4b4" stroke-width="0.3"/>
<rect x="369.10" y="99.20" width="7.90" height="8.12" fill="#4aa2d4" stroke="#b4b4b4" stroke-width="0.3"/>
<rect x="377.00" y="99.20" width="7.90" height="8.12" fill="#fcd8c4" stroke="#b4b4b4" stroke-width="0.3"/>
<rect x="313.80" y="107.33" width="7.90" height="8.12" fill="#a00824" stroke="#b4b4b4" stroke-width="0.3"/>
<rect x="321.70" y="107.33" width="7.90" height="8.12" fill="#e03a3a" stroke="#b4b4b4" stroke-width="0.3"/>
<rect x="329.60" y="107.33" width="7.90" height="8.12" fill="#f47c60" stroke="#b4b4b4" stroke-width="0.3"/>
<rect x="337.50" y="107.33" width="7.90" height="8.12" fill="#3a9ad0" stroke="#b4b4b4" stroke-width="0.3"/>
<rect x="345.40" y="107.33" width="7.90" height="8.12" fill="#86c2e0" stroke="#b4b4b4" stroke-width="0.3"/>
<rect x="353.30" y="107.33" width="7.90" height="8.12" fill="#2890cc" stroke="#b4b4b4" stroke-width="0.3"/>
<rect x="361.20" y="107.33" width="7.90" height="8.12" fill="#a6d2e8" stroke="#b4b4b4" stroke-width="0.3"/>
<rect x="369.10" y="107.33" width="7.90" height="8.12" fill="#5aaad8" stroke="#b4b4b4" stroke-width="0.3"/>
<rect x="377.00" y="107.33" width="7.90" height="8.12" fill="#b8daec" stroke="#b4b4b4" stroke-width="0.3"/>
<rect x="313.80" y="115.45" width="7.90" height="8.12" fill="#8c0a24" stroke="#b4b4b4" stroke-width="0.3"/>
<rect x="321.70" y="115.45" width="7.90" height="8.12" fill="#f47c60" stroke="#b4b4b4" stroke-width="0.3"/>
<rect x="329.60" y="115.45" width="7.90" height="8.12" fill="#f47c60" stroke="#b4b4b4" stroke-width="0.3"/>
<rect x="337.50" y="115.45" width="7.90" height="8.12" fill="#4aa2d4" stroke="#b4b4b4" stroke-width="0.3"/>
<rect x="345.40" y="115.45" width="7.90" height="8.12" fill="#78bade" stroke="#b4b4b4" stroke-width="0.3"/>
<rect x="353.30" y="115.45" width="7.90" height="8.12" fill="#86c2e0" stroke="#b4b4b4" stroke-width="0.3"/>
<rect x="361.20" y="115.45" width="7.90" height="8.12" fill="#4aa2d4" stroke="#b4b4b4" stroke-width="0.3"/>
<rect x="369.10" y="115.45" width="7.90" height="8.12" fill="#3a9ad0" stroke="#b4b4b4" stroke-width="0.3"/>
<rect x="377.00" y="115.45" width="7.90" height="8.12" fill="#c0deee" stroke="#b4b4b4" stroke-width="0.3"/>
<rect x="313.80" y="123.58" width="7.90" height="8.12" fill="#c0102a" stroke="#b4b4b4" stroke-width="0.3"/>
<rect x="321.70" y="123.58" width="7.90" height="8.12" fill="#d62a34" stroke="#b4b4b4" stroke-width="0.3"/>
<rect x="329.60" y="123.58" width="7.90" height="8.12" fill="#f47c60" stroke="#b4b4b4" stroke-width="0.3"/>
<rect x="337.50" y="123.58" width="7.90" height="8.12" fill="#78bade" stroke="#b4b4b4" stroke-width="0.3"/>
<rect x="345.40" y="123.58" width="7.90" height="8.12" fill="#86c2e0" stroke="#b4b4b4" stroke-width="0.3"/>
<rect x="353.30" y="123.58" width="7.90" height="8.12" fill="#86c2e0" stroke="#b4b4b4" stroke-width="0.3"/>
<rect x="361.20" y="123.58" width="7.90" height="8.12" fill="#5aaad8" stroke="#b4b4b4" stroke-width="0.3"/>
<rect x="369.10" y="123.58" width="7.90" height="8.12" fill="#2890cc" stroke="#b4b4b4" stroke-width="0.3"/>
<rect x="377.00" y="123.58" width="7.90" height="8.12" fill="#86c2e0" stroke="#b4b4b4" stroke-width="0.3"/>
<rect x="313.80" y="131.70" width="7.90" height="8.12" fill="#b80a28" stroke="#b4b4b4" stroke-width="0.3"/>
<rect x="321.70" y="131.70" width="7.90" height="8.12" fill="#e03a3a" stroke="#b4b4b4" stroke-width="0.3"/>
<rect x="329.60" y="131.70" width="7.90" height="8.12" fill="#f06a52" stroke="#b4b4b4" stroke-width="0.3"/>
<rect x="337.50" y="131.70" width="7.90" height="8.12" fill="#86c2e0" stroke="#b4b4b4" stroke-width="0.3"/>
<rect x="345.40" y="131.70" width="7.90" height="8.12" fill="#6cb4dc" stroke="#b4b4b4" stroke-width="0.3"/>
<rect x="353.30" y="131.70" width="7.90" height="8.12" fill="#5aaad8" stroke="#b4b4b4" stroke-width="0.3"/>
<rect x="361.20" y="131.70" width="7.90" height="8.12" fill="#78bade" stroke="#b4b4b4" stroke-width="0.3"/>
<rect x="369.10" y="131.70" width="7.90" height="8.12" fill="#6cb4dc" stroke="#b4b4b4" stroke-width="0.3"/>
<rect x="377.00" y="131.70" width="7.90" height="8.12" fill="#6cb4dc" stroke="#b4b4b4" stroke-width="0.3"/>
<rect x="313.80" y="139.82" width="7.90" height="8.12" fill="#c0102a" stroke="#b4b4b4" stroke-width="0.3"/>
<rect x="321.70" y="139.82" width="7.90" height="8.12" fill="#f89474" stroke="#b4b4b4" stroke-width="0.3"/>
<rect x="329.60" y="139.82" width="7.90" height="8.12" fill="#c8142a" stroke="#b4b4b4" stroke-width="0.3"/>
<rect x="337.50" y="139.82" width="7.90" height="8.12" fill="#6cb4dc" stroke="#b4b4b4" stroke-width="0.3"/>
<rect x="345.40" y="139.82" width="7.90" height="8.12" fill="#78bade" stroke="#b4b4b4" stroke-width="0.3"/>
<rect x="353.30" y="139.82" width="7.90" height="8.12" fill="#78bade" stroke="#b4b4b4" stroke-width="0.3"/>
<rect x="361.20" y="139.82" width="7.90" height="8.12" fill="#78bade" stroke="#b4b4b4" stroke-width="0.3"/>
<rect x="369.10" y="139.82" width="7.90" height="8.12" fill="#86c2e0" stroke="#b4b4b4" stroke-width="0.3"/>
<rect x="377.00" y="139.82" width="7.90" height="8.12" fill="#78bade" stroke="#b4b4b4" stroke-width="0.3"/>
<rect x="313.80" y="147.95" width="7.90" height="8.12" fill="#cc1a2c" stroke="#b4b4b4" stroke-width="0.3"/>
<rect x="321.70" y="147.95" width="7.90" height="8.12" fill="#f68c6c" stroke="#b4b4b4" stroke-width="0.3"/>
<rect x="329.60" y="147.95" width="7.90" height="8.12" fill="#cc1a2c" stroke="#b4b4b4" stroke-width="0.3"/>
<rect x="337.50" y="147.95" width="7.90" height="8.12" fill="#6cb4dc" stroke="#b4b4b4" stroke-width="0.3"/>
<rect x="345.40" y="147.95" width="7.90" height="8.12" fill="#6cb4dc" stroke="#b4b4b4" stroke-width="0.3"/>
<rect x="353.30" y="147.95" width="7.90" height="8.12" fill="#5aaad8" stroke="#b4b4b4" stroke-width="0.3"/>
<rect x="361.20" y="147.95" width="7.90" height="8.12" fill="#a6d2e8" stroke="#b4b4b4" stroke-width="0.3"/>
<rect x="369.10" y="147.95" width="7.90" height="8.12" fill="#2890cc" stroke="#b4b4b4" stroke-width="0.3"/>
<rect x="377.00" y="147.95" width="7.90" height="8.12" fill="#e8e4e6" stroke="#b4b4b4" stroke-width="0.3"/>
<rect x="313.80" y="156.07" width="7.90" height="8.12" fill="#1c78ba" stroke="#b4b4b4" stroke-width="0.3"/>
<rect x="321.70" y="156.07" width="7.90" height="8.12" fill="#2080c0" stroke="#b4b4b4" stroke-width="0.3"/>
<rect x="329.60" y="156.07" width="7.90" height="8.12" fill="#4aa2d4" stroke="#b4b4b4" stroke-width="0.3"/>
<rect x="337.50" y="156.07" width="7.90" height="8.12" fill="#fce0d4" stroke="#b4b4b4" stroke-width="0.3"/>
<rect x="345.40" y="156.07" width="7.90" height="8.12" fill="#e4e4ea" stroke="#b4b4b4" stroke-width="0.3"/>
<rect x="353.30" y="156.07" width="7.90" height="8.12" fill="#fcd0bc" stroke="#b4b4b4" stroke-width="0.3"/>
<rect x="361.20" y="156.07" width="7.90" height="8.12" fill="#b00a26" stroke="#b4b4b4" stroke-width="0.3"/>
<rect x="369.10" y="156.07" width="7.90" height="8.12" fill="#fce0d4" stroke="#b4b4b4" stroke-width="0.3"/>
<rect x="377.00" y="156.07" width="7.90" height="8.12" fill="#ee6450" stroke="#b4b4b4" stroke-width="0.3"/>
<rect x="313.80" y="164.20" width="7.90" height="8.12" fill="#1c78ba" stroke="#b4b4b4" stroke-width="0.3"/>
<rect x="321.70" y="164.20" width="7.90" height="8.12" fill="#2080c0" stroke="#b4b4b4" stroke-width="0.3"/>
<rect x="329.60" y="164.20" width="7.90" height="8.12" fill="#2890cc" stroke="#b4b4b4" stroke-width="0.3"/>
<rect x="337.50" y="164.20" width="7.90" height="8.12" fill="#f4e4e0" stroke="#b4b4b4" stroke-width="0.3"/>
<rect x="345.40" y="164.20" width="7.90" height="8.12" fill="#fcc8b0" stroke="#b4b4b4" stroke-width="0.3"/>
<rect x="353.30" y="164.20" width="7.90" height="8.12" fill="#fbb89c" stroke="#b4b4b4" stroke-width="0.3"/>
<rect x="361.20" y="164.20" width="7.90" height="8.12" fill="#a80826" stroke="#b4b4b4" stroke-width="0.3"/>
<rect x="369.10" y="164.20" width="7.90" height="8.12" fill="#fcd0bc" stroke="#b4b4b4" stroke-width="0.3"/>
<rect x="377.00" y="164.20" width="7.90" height="8.12" fill="#fbb094" stroke="#b4b4b4" stroke-width="0.3"/>
<rect x="313.80" y="172.32" width="7.90" height="8.12" fill="#1c78ba" stroke="#b4b4b4" stroke-width="0.3"/>
<rect x="321.70" y="172.32" width="7.90" height="8.12" fill="#2080c0" stroke="#b4b4b4" stroke-width="0.3"/>
<rect x="329.60" y="172.32" width="7.90" height="8.12" fill="#2890cc" stroke="#b4b4b4" stroke-width="0.3"/>
<rect x="337.50" y="172.32" width="7.90" height="8.12" fill="#b0d6ea" stroke="#b4b4b4" stroke-width="0.3"/>
<rect x="345.40" y="172.32" width="7.90" height="8.12" fill="#f2745a" stroke="#b4b4b4" stroke-width="0.3"/>
<rect x="353.30" y="172.32" width="7.90" height="8.12" fill="#f68c6c" stroke="#b4b4b4" stroke-width="0.3"/>
<rect x="361.20" y="172.32" width="7.90" height="8.12" fill="#e03a3a" stroke="#b4b4b4" stroke-width="0.3"/>
<rect x="369.10" y="172.32" width="7.90" height="8.12" fill="#fdd8c6" stroke="#b4b4b4" stroke-width="0.3"/>
<rect x="377.00" y="172.32" width="7.90" height="8.12" fill="#f89474" stroke="#b4b4b4" stroke-width="0.3"/>
<rect x="313.80" y="180.45" width="7.90" height="8.12" fill="#0c3c80" stroke="#b4b4b4" stroke-width="0.3"/>
<rect x="321.70" y="180.45" width="7.90" height="8.12" fill="#6cb4dc" stroke="#b4b4b4" stroke-width="0.3"/>
<rect x="329.60" y="180.45" width="7.90" height="8.12" fill="#1c78ba" stroke="#b4b4b4" stroke-width="0.3"/>
<rect x="337.50" y="180.45" width="7.90" height="8.12" fill="#fcd0bc" stroke="#b4b4b4" stroke-width="0.3"/>
<rect x="345.40" y="180.45" width="7.90" height="8.12" fill="#f89474" stroke="#b4b4b4" stroke-width="0.3"/>
<rect x="353.30" y="180.45" width="7.90" height="8.12" fill="#f89474" stroke="#b4b4b4" stroke-width="0.3"/>
<rect x="361.20" y="180.45" width="7.90" height="8.12" fill="#f89474" stroke="#b4b4b4" stroke-width="0.3"/>
<rect x="369.10" y="180.45" width="7.90" height="8.12" fill="#fbb094" stroke="#b4b4b4" stroke-width="0.3"/>
<rect x="377.00" y="180.45" width="7.90" height="8.12" fill="#f89474" stroke="#b4b4b4" stroke-width="0.3"/>
<rect x="313.80" y="188.57" width="7.90" height="8.12" fill="#1668b0" stroke="#b4b4b4" stroke-width="0.3"/>
<rect x="321.70" y="188.57" width="7.90" height="8.12" fill="#86c2e0" stroke="#b4b4b4" stroke-width="0.3"/>
<rect x="329.60" y="188.57" width="7.90" height="8.12" fill="#0c4890" stroke="#b4b4b4" stroke-width="0.3"/>
<rect x="337.50" y="188.57" width="7.90" height="8.12" fill="#fbb094" stroke="#b4b4b4" stroke-width="0.3"/>
<rect x="345.40" y="188.57" width="7.90" height="8.12" fill="#fcc0a6" stroke="#b4b4b4" stroke-width="0.3"/>
<rect x="353.30" y="188.57" width="7.90" height="8.12" fill="#f8a080" stroke="#b4b4b4" stroke-width="0.3"/>
<rect x="361.20" y="188.57" width="7.90" height="8.12" fill="#fbb094" stroke="#b4b4b4" stroke-width="0.3"/>
<rect x="369.10" y="188.57" width="7.90" height="8.12" fill="#f68c6c" stroke="#b4b4b4" stroke-width="0.3"/>
<rect x="377.00" y="188.57" width="7.90" height="8.12" fill="#fbb094" stroke="#b4b4b4" stroke-width="0.3"/>
<rect x="313.80" y="28.90" width="7.95" height="3.30" fill="#ee1838"/>
<rect x="321.70" y="28.90" width="7.95" height="3.30" fill="#ee1838"/>
<rect x="329.60" y="28.90" width="7.95" height="3.30" fill="#ee1838"/>
<rect x="337.50" y="28.90" width="7.95" height="3.30" fill="#2b90e4"/>
<rect x="345.40" y="28.90" width="7.95" height="3.30" fill="#2b90e4"/>
<rect x="353.30" y="28.90" width="7.95" height="3.30" fill="#2b90e4"/>
<rect x="361.20" y="28.90" width="7.95" height="3.30" fill="#1fca78"/>
<rect x="369.10" y="28.90" width="7.95" height="3.30" fill="#1fca78"/>
<rect x="377.00" y="28.90" width="7.95" height="3.30" fill="#1fca78"/>
<text x="386.6" y="40.76" font-size="6.0" fill="#111" font-weight="bold" text-anchor="start" stroke="#111" stroke-width="0.1">Lysine</text>
<text x="386.6" y="48.91" font-size="6.0" fill="#f5141c" font-weight="bold" text-anchor="start" stroke="#f5141c" stroke-width="0.1">Citrulline</text>
<text x="386.6" y="57.05" font-size="6.0" fill="#f5141c" font-weight="bold" text-anchor="start" stroke="#f5141c" stroke-width="0.1">Glycine</text>
<text x="386.6" y="65.2" font-size="6.0" fill="#111" font-weight="bold" text-anchor="start" stroke="#111" stroke-width="0.1">Threonine</text>
<text x="386.6" y="73.35" font-size="6.0" fill="#111" font-weight="bold" text-anchor="start" stroke="#111" stroke-width="0.1">Homoserine</text>
<text x="386.6" y="81.5" font-size="6.0" fill="#111" font-weight="bold" text-anchor="start" stroke="#111" stroke-width="0.1">PP</text>
<text x="386.6" y="89.64" font-size="6.0" fill="#111" font-weight="bold" text-anchor="start" stroke="#111" stroke-width="0.1">UDP-GlcNAc</text>
<text x="386.6" y="97.79" font-size="6.0" fill="#111" font-weight="bold" text-anchor="start" stroke="#111" stroke-width="0.1">CMP</text>
<text x="386.6" y="105.94" font-size="6.0" fill="#f5141c" font-weight="bold" text-anchor="start" stroke="#f5141c" stroke-width="0.1">Glutathione</text>
<text x="386.6" y="114.08" font-size="6.0" fill="#f5141c" font-weight="bold" text-anchor="start" stroke="#f5141c" stroke-width="0.1">Histidine</text>
<text x="386.6" y="122.23" font-size="6.0" fill="#f5141c" font-weight="bold" text-anchor="start" stroke="#f5141c" stroke-width="0.1">Asparagine</text>
<text x="386.6" y="130.38" font-size="6.0" fill="#f5141c" font-weight="bold" text-anchor="start" stroke="#f5141c" stroke-width="0.1">Ornithine</text>
<text x="386.6" y="138.52" font-size="6.0" fill="#111" font-weight="bold" text-anchor="start" stroke="#111" stroke-width="0.1">Leu/Ile</text>
<text x="386.6" y="146.67" font-size="6.0" fill="#f5141c" font-weight="bold" text-anchor="start" stroke="#f5141c" stroke-width="0.1">Proline</text>
<text x="386.6" y="154.82" font-size="6.0" fill="#111" font-weight="bold" text-anchor="start" stroke="#111" stroke-width="0.1">Phenylalanine</text>
<text x="386.6" y="162.97" font-size="6.0" fill="#111" font-weight="bold" text-anchor="start" stroke="#111" stroke-width="0.1">Glutamate</text>
<text x="386.6" y="171.11" font-size="6.0" fill="#111" font-weight="bold" text-anchor="start" stroke="#111" stroke-width="0.1">Fructose-6P</text>
<text x="386.6" y="179.26" font-size="6.0" fill="#111" font-weight="bold" text-anchor="start" stroke="#111" stroke-width="0.1">Ribose phosphate</text>
<text x="386.6" y="187.41" font-size="6.0" fill="#111" font-weight="bold" text-anchor="start" stroke="#111" stroke-width="0.1">N-Acetyl-L-alanine</text>
<text x="386.6" y="195.55" font-size="6.0" fill="#3285e8" font-weight="bold" text-anchor="start" stroke="#3285e8" stroke-width="0.1">Glutamine</text>
<text x="318.58" y="226.8" font-size="6.6" fill="#111" font-weight="bold" text-anchor="start" transform="rotate(-90 318.58 226.8)" stroke="#111" stroke-width="0.1">MED211</text>
<text x="326.98" y="226.8" font-size="6.6" fill="#111" font-weight="bold" text-anchor="start" transform="rotate(-90 326.98 226.8)" stroke="#111" stroke-width="0.1">MED211</text>
<text x="335.68" y="226.8" font-size="6.6" fill="#111" font-weight="bold" text-anchor="start" transform="rotate(-90 335.68 226.8)" stroke="#111" stroke-width="0.1">MED211</text>
<text x="343.48" y="226.8" font-size="6.6" fill="#111" font-weight="bold" text-anchor="start" transform="rotate(-90 343.48 226.8)" stroke="#111" stroke-width="0.1">CTL CB</text>
<text x="351.28" y="226.8" font-size="6.6" fill="#111" font-weight="bold" text-anchor="start" transform="rotate(-90 351.28 226.8)" stroke="#111" stroke-width="0.1">CTL CB</text>
<text x="359.08" y="226.8" font-size="6.6" fill="#111" font-weight="bold" text-anchor="start" transform="rotate(-90 359.08 226.8)" stroke="#111" stroke-width="0.1">CTL CB</text>
<text x="367.38" y="226.8" font-size="6.6" fill="#111" font-weight="bold" text-anchor="start" transform="rotate(-90 367.38 226.8)" stroke="#111" stroke-width="0.1">CTL CTX</text>
<text x="375.18" y="226.8" font-size="6.6" fill="#111" font-weight="bold" text-anchor="start" transform="rotate(-90 375.18 226.8)" stroke="#111" stroke-width="0.1">CTL CTX</text>
<text x="383.18" y="226.8" font-size="6.6" fill="#111" font-weight="bold" text-anchor="start" transform="rotate(-90 383.18 226.8)" stroke="#111" stroke-width="0.1">CTL CTX</text>
<text x="297.2" y="33.3" font-size="5.3" fill="#111" font-weight="bold" text-anchor="start" stroke="#111" stroke-width="0.1">class</text>
<rect x="403.20" y="6.00" width="3.80" height="7.20" fill="#2b98ea"/>
<rect x="403.20" y="13.20" width="3.80" height="7.20" fill="#1fd07a"/>
<rect x="403.20" y="20.40" width="3.80" height="7.00" fill="#ee1530"/>
<text x="410" y="12.2" font-size="6.0" fill="#111" font-weight="bold" text-anchor="start" stroke="#111" stroke-width="0.1">CTL CB</text>
<text x="410" y="19.7" font-size="5.9" fill="#111" font-weight="bold" text-anchor="start" stroke="#111" stroke-width="0.1">CTL CTX</text>
<text x="410" y="26.6" font-size="5.8" fill="#111" font-weight="bold" text-anchor="start" stroke="#111" stroke-width="0.1">MED211</text>
<path d="M323.7 26V12.7H360V23.9 M317.75 28.8V26H329.7V26.8 M325.65000000000003 28.8V26.8H333.55V28.8 M348 25.6V23.9H373V25.2 M341.45 28.8V25.6H353V26.5 M349.35 28.8V26.5H357.25V28.8 M365.15000000000003 28.8V25.2H377V26.3 M373.05 28.8V26.3H380.95000000000005V28.8" fill="none" stroke="#707070" stroke-width="0.5"/>
<path d="M312.2 91.8H302V170.6H312.2 M312.2 60V125 M312.2 160V185" fill="none" stroke="#707070" stroke-width="0.5"/>
<defs><linearGradient id="cb" x1="0" y1="0" x2="0" y2="1"><stop offset="0" stop-color="#6a0018"/><stop offset="0.12" stop-color="#c0102a"/><stop offset="0.28" stop-color="#f47c60"/><stop offset="0.42" stop-color="#fcd8c4"/><stop offset="0.5" stop-color="#eef0f2"/><stop offset="0.6" stop-color="#b8daec"/><stop offset="0.75" stop-color="#4aa2d4"/><stop offset="0.9" stop-color="#1668b0"/><stop offset="1" stop-color="#08306b"/></linearGradient></defs>
<rect x="428.00" y="36.00" width="3.70" height="104.40" fill="url(#cb)"/>
<text x="434" y="48.0" font-size="5.6" fill="#111" font-weight="bold" text-anchor="start" stroke="#111" stroke-width="0.1">1.5</text>
<text x="434" y="61.0" font-size="5.6" fill="#111" font-weight="bold" text-anchor="start" stroke="#111" stroke-width="0.1">1</text>
<text x="434" y="76.0" font-size="5.6" fill="#111" font-weight="bold" text-anchor="start" stroke="#111" stroke-width="0.1">0.5</text>
<text x="434" y="90.3" font-size="5.6" fill="#111" font-weight="bold" text-anchor="start" stroke="#111" stroke-width="0.1">0</text>
<text x="434" y="104.0" font-size="5.6" fill="#111" font-weight="bold" text-anchor="start" stroke="#111" stroke-width="0.1">-0.5</text>
<text x="434" y="118.0" font-size="5.6" fill="#111" font-weight="bold" text-anchor="start" stroke="#111" stroke-width="0.1">-1</text>
<text x="434" y="131.5" font-size="5.6" fill="#111" font-weight="bold" text-anchor="start" stroke="#111" stroke-width="0.1">-1.5</text>
<text x="18" y="244.6" font-size="10.5" fill="#111" font-weight="bold" text-anchor="start" stroke="#111" stroke-width="0.1">C</text>
<text x="88.2" y="246.5" font-size="10.4" fill="#111" font-weight="normal" text-anchor="start">D425MED</text>
<line x1="43" y1="259.3" x2="43" y2="370.7" stroke="#bcbcff" stroke-width="0.8"/>
<line x1="66.9" y1="259.3" x2="66.9" y2="370.7" stroke="#bcbcff" stroke-width="0.8"/>
<line x1="90.8" y1="259.3" x2="90.8" y2="370.7" stroke="#bcbcff" stroke-width="0.8"/>
<line x1="114.7" y1="259.3" x2="114.7" y2="370.7" stroke="#bcbcff" stroke-width="0.8"/>
<line x1="138.6" y1="259.3" x2="138.6" y2="370.7" stroke="#bcbcff" stroke-width="0.8"/>
<line x1="162.5" y1="259.3" x2="162.5" y2="370.7" stroke="#bcbcff" stroke-width="0.8"/>
<line x1="38.8" y1="263.1" x2="168.4" y2="263.1" stroke="#bcbcff" stroke-width="0.8"/>
<line x1="38.8" y1="281.7" x2="168.4" y2="281.7" stroke="#bcbcff" stroke-width="0.8"/>
<line x1="38.8" y1="300.3" x2="168.4" y2="300.3" stroke="#bcbcff" stroke-width="0.8"/>
<line x1="38.8" y1="318.9" x2="168.4" y2="318.9" stroke="#bcbcff" stroke-width="0.8"/>
<line x1="38.8" y1="337.5" x2="168.4" y2="337.5" stroke="#bcbcff" stroke-width="0.8"/>
<line x1="38.8" y1="356" x2="168.4" y2="356" stroke="#bcbcff" stroke-width="0.8"/>
<rect x="56.30" y="257.78" width="63.14" height="7.41" fill="#fff"/>
<rect x="68.40" y="271.58" width="39.08" height="7.41" fill="#fff"/>
<rect x="68.40" y="277.58" width="34.00" height="7.41" fill="#fff"/>
<rect x="59.10" y="295.58" width="21.34" height="7.41" fill="#fff"/>
<rect x="96.70" y="295.58" width="66.00" height="7.41" fill="#fff"/>
<rect x="85.90" y="325.08" width="30.95" height="7.41" fill="#fff"/>
<rect x="154.10" y="270.38" width="78.99" height="7.41" fill="#fff"/>
<rect x="154.10" y="276.28" width="69.79" height="7.41" fill="#fff"/>
<rect x="128.40" y="286.08" width="68.52" height="7.41" fill="#fff"/>
<rect x="123.30" y="305.58" width="55.87" height="7.41" fill="#fff"/>
<rect x="123.30" y="311.19" width="62.83" height="7.41" fill="#fff"/>
<line x1="38.8" y1="262.70000000000005" x2="38.8" y2="356.4" stroke="#111" stroke-width="1.1"/>
<line x1="35.8" y1="263.1" x2="38.8" y2="263.1" stroke="#111" stroke-width="0.8"/>
<text x="30" y="263.1" font-size="5.6" fill="#111" font-weight="bold" text-anchor="middle" transform="rotate(-90 30 263.1)" stroke="#111" stroke-width="0.1">6</text>
<line x1="35.8" y1="281.7" x2="38.8" y2="281.7" stroke="#111" stroke-width="0.8"/>
<text x="30" y="281.7" font-size="5.6" fill="#111" font-weight="bold" text-anchor="middle" transform="rotate(-90 30 281.7)" stroke="#111" stroke-width="0.1">5</text>
<line x1="35.8" y1="300.3" x2="38.8" y2="300.3" stroke="#111" stroke-width="0.8"/>
<text x="30" y="300.3" font-size="5.6" fill="#111" font-weight="bold" text-anchor="middle" transform="rotate(-90 30 300.3)" stroke="#111" stroke-width="0.1">4</text>
<line x1="35.8" y1="318.9" x2="38.8" y2="318.9" stroke="#111" stroke-width="0.8"/>
<text x="30" y="318.9" font-size="5.6" fill="#111" font-weight="bold" text-anchor="middle" transform="rotate(-90 30 318.9)" stroke="#111" stroke-width="0.1">3</text>
<line x1="35.8" y1="337.5" x2="38.8" y2="337.5" stroke="#111" stroke-width="0.8"/>
<text x="30" y="337.5" font-size="5.6" fill="#111" font-weight="bold" text-anchor="middle" transform="rotate(-90 30 337.5)" stroke="#111" stroke-width="0.1">2</text>
<line x1="35.8" y1="356" x2="38.8" y2="356" stroke="#111" stroke-width="0.8"/>
<text x="30" y="356" font-size="5.6" fill="#111" font-weight="bold" text-anchor="middle" transform="rotate(-90 30 356)" stroke="#111" stroke-width="0.1">1</text>
<line x1="42.6" y1="370.7" x2="162.9" y2="370.7" stroke="#111" stroke-width="1.1"/>
<line x1="43" y1="370.7" x2="43" y2="373.2" stroke="#111" stroke-width="0.8"/>
<text x="43" y="382" font-size="5.5" fill="#111" font-weight="bold" text-anchor="middle" stroke="#111" stroke-width="0.1">0.0</text>
<line x1="66.9" y1="370.7" x2="66.9" y2="373.2" stroke="#111" stroke-width="0.8"/>
<text x="66.9" y="382" font-size="5.5" fill="#111" font-weight="bold" text-anchor="middle" stroke="#111" stroke-width="0.1">0.1</text>
<line x1="90.8" y1="370.7" x2="90.8" y2="373.2" stroke="#111" stroke-width="0.8"/>
<text x="90.8" y="382" font-size="5.5" fill="#111" font-weight="bold" text-anchor="middle" stroke="#111" stroke-width="0.1">0.2</text>
<line x1="114.7" y1="370.7" x2="114.7" y2="373.2" stroke="#111" stroke-width="0.8"/>
<text x="114.7" y="382" font-size="5.5" fill="#111" font-weight="bold" text-anchor="middle" stroke="#111" stroke-width="0.1">0.3</text>
<line x1="138.6" y1="370.7" x2="138.6" y2="373.2" stroke="#111" stroke-width="0.8"/>
<text x="138.6" y="382" font-size="5.5" fill="#111" font-weight="bold" text-anchor="middle" stroke="#111" stroke-width="0.1">0.4</text>
<line x1="162.5" y1="370.7" x2="162.5" y2="373.2" stroke="#111" stroke-width="0.8"/>
<text x="162.5" y="382" font-size="5.5" fill="#111" font-weight="bold" text-anchor="middle" stroke="#111" stroke-width="0.1">0.5</text>
<text x="107.6" y="391.9" font-size="7.15" fill="#111" font-weight="bold" text-anchor="middle" stroke="#111" stroke-width="0.1">Pathway impact</text>
<text x="18.6" y="315" font-size="6.5" fill="#111" font-weight="bold" text-anchor="middle" transform="rotate(-90 18.6 315)" stroke="#111" stroke-width="0.1">-log10(P)</text>
<circle cx="43.5" cy="283.4" r="1.1" fill="#e84010" stroke="#666" stroke-width="0.35"/>
<circle cx="45.5" cy="283.4" r="1.1" fill="#e84010" stroke="#666" stroke-width="0.35"/>
<circle cx="61.4" cy="283.4" r="2.3" fill="#f04010" stroke="#666" stroke-width="0.35"/>
<circle cx="64.4" cy="279.6" r="2.3" fill="#f02010" stroke="#666" stroke-width="0.35"/>
<circle cx="74.7" cy="291.9" r="3" fill="#f88020" stroke="#666" stroke-width="0.35"/>
<circle cx="96.5" cy="290.4" r="3.5" fill="#f06010" stroke="#666" stroke-width="0.35"/>
<circle cx="103.3" cy="286.9" r="3.5" fill="#f06818" stroke="#666" stroke-width="0.35"/>
<circle cx="111.5" cy="270.8" r="3.6" fill="#f01818" stroke="#666" stroke-width="0.35"/>
<circle cx="42.8" cy="299.7" r="1" fill="#f08020" stroke="#666" stroke-width="0.35"/>
<circle cx="92.2" cy="298.4" r="3.3" fill="#f88820" stroke="#666" stroke-width="0.35"/>
<circle cx="56.4" cy="307.2" r="2.3" fill="#f8a020" stroke="#666" stroke-width="0.35"/>
<circle cx="96" cy="307.7" r="3.5" fill="#f8b020" stroke="#666" stroke-width="0.35"/>
<circle cx="113" cy="307.9" r="3.9" fill="#f8b010" stroke="#666" stroke-width="0.35"/>
<circle cx="42.8" cy="332.3" r="1.1" fill="#e8b020" stroke="#666" stroke-width="0.35"/>
<circle cx="76.1" cy="330.2" r="3" fill="#f8c010" stroke="#666" stroke-width="0.35"/>
<circle cx="70.5" cy="338.8" r="2.8" fill="#f8d810" stroke="#666" stroke-width="0.35"/>
<circle cx="42.8" cy="350.5" r="1.2" fill="#e8b020" stroke="#666" stroke-width="0.35"/>
<circle cx="44" cy="353.7" r="1.8" fill="#f0f0a0" stroke="#666" stroke-width="0.35"/>
<circle cx="62" cy="366.6" r="2.5" fill="#ffffff" stroke="#666" stroke-width="0.35"/>
<circle cx="128" cy="264.4" r="4" fill="#f01010" stroke="#666" stroke-width="0.35"/>
<circle cx="162.8" cy="264.4" r="4.2" fill="#f01010" stroke="#666" stroke-width="0.35"/>
<circle cx="127" cy="282.2" r="4" fill="#f03010" stroke="#666" stroke-width="0.35"/>
<text x="58.1" y="263.2" font-size="5.7" fill="#1a1a1a" font-weight="bold" text-anchor="start" stroke="#1a1a1a" stroke-width="0.1">Arginine biosynthesis</text>
<text x="70.2" y="277" font-size="5.7" fill="#1a1a1a" font-weight="bold" text-anchor="start" stroke="#1a1a1a" stroke-width="0.1">Cysteine and</text>
<text x="70.2" y="283" font-size="5.7" fill="#1a1a1a" font-weight="bold" text-anchor="start" stroke="#1a1a1a" stroke-width="0.1">methionine</text>
<text x="60.9" y="301" font-size="5.7" fill="#1a1a1a" font-weight="bold" text-anchor="start" stroke="#1a1a1a" stroke-width="0.1">Purine</text>
<text x="98.5" y="301" font-size="5.7" fill="#1a1a1a" font-weight="bold" text-anchor="start" stroke="#1a1a1a" stroke-width="0.1">Pyrimidine metabolism</text>
<text x="87.7" y="330.5" font-size="5.7" fill="#1a1a1a" font-weight="bold" text-anchor="start" stroke="#1a1a1a" stroke-width="0.1">TCA cycle</text>
<text x="155.9" y="275.8" font-size="5.7" fill="#1a1a1a" font-weight="bold" text-anchor="start" stroke="#1a1a1a" stroke-width="0.1">Phenylalanine, tyrosine and</text>
<text x="155.9" y="281.7" font-size="5.7" fill="#1a1a1a" font-weight="bold" text-anchor="start" stroke="#1a1a1a" stroke-width="0.1">tryptophan biosynthesis</text>
<text x="130.2" y="291.5" font-size="5.7" fill="#1a1a1a" font-weight="bold" text-anchor="start" stroke="#1a1a1a" stroke-width="0.1">Glutathione metabolism</text>
<text x="125.1" y="311" font-size="5.7" fill="#1a1a1a" font-weight="bold" text-anchor="start" stroke="#1a1a1a" stroke-width="0.1">Glycine, serine and</text>
<text x="125.1" y="316.6" font-size="5.7" fill="#1a1a1a" font-weight="bold" text-anchor="start" stroke="#1a1a1a" stroke-width="0.1">threonine metabolism</text>
<text x="240" y="246.5" font-size="10" fill="#111" font-weight="bold" text-anchor="start" stroke="#111" stroke-width="0.1">D</text>
<text x="311.4" y="246.5" font-size="10" fill="#111" font-weight="normal" text-anchor="start">MED211</text>
<line x1="261.6" y1="246" x2="261.6" y2="371.6" stroke="#bcbcff" stroke-width="0.8"/>
<line x1="286.5" y1="246" x2="286.5" y2="371.6" stroke="#bcbcff" stroke-width="0.8"/>
<line x1="311.5" y1="246" x2="311.5" y2="371.6" stroke="#bcbcff" stroke-width="0.8"/>
<line x1="336.4" y1="246" x2="336.4" y2="371.6" stroke="#bcbcff" stroke-width="0.8"/>
<line x1="361.4" y1="246" x2="361.4" y2="371.6" stroke="#bcbcff" stroke-width="0.8"/>
<line x1="386.2" y1="246" x2="386.2" y2="371.6" stroke="#bcbcff" stroke-width="0.8"/>
<line x1="257.1" y1="259.6" x2="394.4" y2="259.6" stroke="#bcbcff" stroke-width="0.8"/>
<line x1="257.1" y1="276" x2="394.4" y2="276" stroke="#bcbcff" stroke-width="0.8"/>
<line x1="257.1" y1="291.9" x2="394.4" y2="291.9" stroke="#bcbcff" stroke-width="0.8"/>
<line x1="257.1" y1="308.4" x2="394.4" y2="308.4" stroke="#bcbcff" stroke-width="0.8"/>
<line x1="257.1" y1="324.8" x2="394.4" y2="324.8" stroke="#bcbcff" stroke-width="0.8"/>
<line x1="257.1" y1="341.1" x2="394.4" y2="341.1" stroke="#bcbcff" stroke-width="0.8"/>
<line x1="257.1" y1="357.5" x2="394.4" y2="357.5" stroke="#bcbcff" stroke-width="0.8"/>
<rect x="328.70" y="246.35" width="34.53" height="7.87" fill="#fff"/>
<rect x="328.70" y="253.05" width="37.22" height="7.87" fill="#fff"/>
<rect x="274.00" y="267.05" width="84.95" height="7.87" fill="#fff"/>
<rect x="274.00" y="273.85" width="55.38" height="7.87" fill="#fff"/>
<rect x="333.60" y="279.95" width="72.51" height="7.87" fill="#fff"/>
<rect x="308.70" y="298.75" width="32.63" height="7.87" fill="#fff"/>
<rect x="368.40" y="299.45" width="59.08" height="7.87" fill="#fff"/>
<rect x="368.40" y="306.75" width="66.46" height="7.87" fill="#fff"/>
<rect x="343.50" y="334.45" width="66.80" height="7.87" fill="#fff"/>
<rect x="264.20" y="341.75" width="41.26" height="7.87" fill="#fff"/>
<rect x="264.20" y="348.55" width="71.17" height="7.87" fill="#fff"/>
<rect x="312.70" y="359.15" width="57.73" height="7.87" fill="#fff"/>
<line x1="257.1" y1="259.20000000000005" x2="257.1" y2="357.9" stroke="#111" stroke-width="1.1"/>
<line x1="254.10000000000002" y1="259.6" x2="257.1" y2="259.6" stroke="#111" stroke-width="0.8"/>
<text x="248" y="259.6" font-size="6.2" fill="#111" font-weight="bold" text-anchor="middle" transform="rotate(-90 248 259.6)" stroke="#111" stroke-width="0.1">7</text>
<line x1="254.10000000000002" y1="276" x2="257.1" y2="276" stroke="#111" stroke-width="0.8"/>
<text x="248" y="276" font-size="6.2" fill="#111" font-weight="bold" text-anchor="middle" transform="rotate(-90 248 276)" stroke="#111" stroke-width="0.1">6</text>
<line x1="254.10000000000002" y1="291.9" x2="257.1" y2="291.9" stroke="#111" stroke-width="0.8"/>
<text x="248" y="291.9" font-size="6.2" fill="#111" font-weight="bold" text-anchor="middle" transform="rotate(-90 248 291.9)" stroke="#111" stroke-width="0.1">5</text>
<line x1="254.10000000000002" y1="308.4" x2="257.1" y2="308.4" stroke="#111" stroke-width="0.8"/>
<text x="248" y="308.4" font-size="6.2" fill="#111" font-weight="bold" text-anchor="middle" transform="rotate(-90 248 308.4)" stroke="#111" stroke-width="0.1">4</text>
<line x1="254.10000000000002" y1="324.8" x2="257.1" y2="324.8" stroke="#111" stroke-width="0.8"/>
<text x="248" y="324.8" font-size="6.2" fill="#111" font-weight="bold" text-anchor="middle" transform="rotate(-90 248 324.8)" stroke="#111" stroke-width="0.1">3</text>
<line x1="254.10000000000002" y1="341.1" x2="257.1" y2="341.1" stroke="#111" stroke-width="0.8"/>
<text x="248" y="341.1" font-size="6.2" fill="#111" font-weight="bold" text-anchor="middle" transform="rotate(-90 248 341.1)" stroke="#111" stroke-width="0.1">2</text>
<line x1="254.10000000000002" y1="357.5" x2="257.1" y2="357.5" stroke="#111" stroke-width="0.8"/>
<text x="248" y="357.5" font-size="6.2" fill="#111" font-weight="bold" text-anchor="middle" transform="rotate(-90 248 357.5)" stroke="#111" stroke-width="0.1">1</text>
<line x1="261.20000000000005" y1="371.6" x2="386.59999999999997" y2="371.6" stroke="#111" stroke-width="1.1"/>
<line x1="261.6" y1="371.6" x2="261.6" y2="374.1" stroke="#111" stroke-width="0.8"/>
<text x="261.6" y="383.7" font-size="6.0" fill="#111" font-weight="bold" text-anchor="middle" stroke="#111" stroke-width="0.1">0.0</text>
<line x1="286.5" y1="371.6" x2="286.5" y2="374.1" stroke="#111" stroke-width="0.8"/>
<text x="286.5" y="383.7" font-size="6.0" fill="#111" font-weight="bold" text-anchor="middle" stroke="#111" stroke-width="0.1">0.1</text>
<line x1="311.5" y1="371.6" x2="311.5" y2="374.1" stroke="#111" stroke-width="0.8"/>
<text x="311.5" y="383.7" font-size="6.0" fill="#111" font-weight="bold" text-anchor="middle" stroke="#111" stroke-width="0.1">0.2</text>
<line x1="336.4" y1="371.6" x2="336.4" y2="374.1" stroke="#111" stroke-width="0.8"/>
<text x="336.4" y="383.7" font-size="6.0" fill="#111" font-weight="bold" text-anchor="middle" stroke="#111" stroke-width="0.1">0.3</text>
<line x1="361.4" y1="371.6" x2="361.4" y2="374.1" stroke="#111" stroke-width="0.8"/>
<text x="361.4" y="383.7" font-size="6.0" fill="#111" font-weight="bold" text-anchor="middle" stroke="#111" stroke-width="0.1">0.4</text>
<line x1="386.2" y1="371.6" x2="386.2" y2="374.1" stroke="#111" stroke-width="0.8"/>
<text x="386.2" y="383.7" font-size="6.0" fill="#111" font-weight="bold" text-anchor="middle" stroke="#111" stroke-width="0.1">0.5</text>
<text x="332.3" y="391.9" font-size="7.15" fill="#111" font-weight="bold" text-anchor="middle" stroke="#111" stroke-width="0.1">Pathway impact</text>
<text x="233.7" y="309.3" font-size="7.3" fill="#111" font-weight="bold" text-anchor="middle" transform="rotate(-90 233.7 309.3)" stroke="#111" stroke-width="0.1">-log10(P)</text>
<circle cx="316.5" cy="252.8" r="3.4" fill="#f01010" stroke="#666" stroke-width="0.35"/>
<circle cx="262.1" cy="279.5" r="1.5" fill="#f01818" stroke="#666" stroke-width="0.35"/>
<circle cx="283.6" cy="286.9" r="2.8" fill="#f01818" stroke="#666" stroke-width="0.35"/>
<circle cx="261.4" cy="306.6" r="1.2" fill="#f02010" stroke="#666" stroke-width="0.35"/>
<circle cx="267.7" cy="309.3" r="2" fill="#f03818" stroke="#666" stroke-width="0.35"/>
<circle cx="296.8" cy="306.7" r="3" fill="#f02010" stroke="#666" stroke-width="0.35"/>
<circle cx="261.4" cy="315.2" r="1.2" fill="#f04818" stroke="#666" stroke-width="0.35"/>
<circle cx="275.8" cy="316.3" r="2.5" fill="#f06010" stroke="#666" stroke-width="0.35"/>
<circle cx="302" cy="317.2" r="3" fill="#f06818" stroke="#666" stroke-width="0.35"/>
<circle cx="306.4" cy="317.2" r="3" fill="#f87018" stroke="#666" stroke-width="0.35"/>
<circle cx="317" cy="314.4" r="3.5" fill="#f04010" stroke="#666" stroke-width="0.35"/>
<circle cx="303.1" cy="322" r="3" fill="#f88020" stroke="#666" stroke-width="0.35"/>
<circle cx="331.7" cy="324" r="3.8" fill="#f88020" stroke="#666" stroke-width="0.35"/>
<circle cx="261.4" cy="320.3" r="1.2" fill="#f07020" stroke="#666" stroke-width="0.35"/>
<circle cx="261.4" cy="329.5" r="1.2" fill="#f8a020" stroke="#666" stroke-width="0.35"/>
<circle cx="263.4" cy="332.4" r="1.8" fill="#f8b020" stroke="#666" stroke-width="0.35"/>
<circle cx="269.5" cy="330.3" r="2.2" fill="#f8a020" stroke="#666" stroke-width="0.35"/>
<circle cx="281.1" cy="332.4" r="2.5" fill="#f8a820" stroke="#666" stroke-width="0.35"/>
<circle cx="262.7" cy="336.1" r="1.8" fill="#f8d840" stroke="#666" stroke-width="0.35"/>
<circle cx="320.3" cy="345.5" r="2.3" fill="#f8a820" stroke="#666" stroke-width="0.35"/>
<circle cx="301.8" cy="362.4" r="3.2" fill="#fff8d0" stroke="#666" stroke-width="0.35"/>
<circle cx="272.8" cy="367" r="2.3" fill="#fffff0" stroke="#666" stroke-width="0.35"/>
<circle cx="356" cy="294.9" r="4" fill="#f01010" stroke="#666" stroke-width="0.35"/>
<circle cx="389.6" cy="320.7" r="4.4" fill="#f87018" stroke="#666" stroke-width="0.35"/>
<circle cx="352.8" cy="326.8" r="4" fill="#f89020" stroke="#666" stroke-width="0.35"/>
<circle cx="350.7" cy="351" r="4" fill="#f8f080" stroke="#666" stroke-width="0.35"/>
<circle cx="386.3" cy="351" r="4.5" fill="#f8e860" stroke="#666" stroke-width="0.35"/>
<text x="330.5" y="252.1" font-size="6.05" fill="#1a1a1a" font-weight="bold" text-anchor="start" stroke="#1a1a1a" stroke-width="0.1">Pyrimidine</text>
<text x="330.5" y="258.8" font-size="6.05" fill="#1a1a1a" font-weight="bold" text-anchor="start" stroke="#1a1a1a" stroke-width="0.1">metabolism</text>
<text x="275.8" y="272.8" font-size="6.05" fill="#1a1a1a" font-weight="bold" text-anchor="start" stroke="#1a1a1a" stroke-width="0.1">Amino sugar and nucleotide</text>
<text x="275.8" y="279.6" font-size="6.05" fill="#1a1a1a" font-weight="bold" text-anchor="start" stroke="#1a1a1a" stroke-width="0.1">sugar metabolism</text>
<text x="335.4" y="285.7" font-size="6.05" fill="#1a1a1a" font-weight="bold" text-anchor="start" stroke="#1a1a1a" stroke-width="0.1">Glutathione metabolism</text>
<text x="310.5" y="304.5" font-size="6.05" fill="#1a1a1a" font-weight="bold" text-anchor="start" stroke="#1a1a1a" stroke-width="0.1">TCA cycle</text>
<text x="370.2" y="305.2" font-size="6.05" fill="#1a1a1a" font-weight="bold" text-anchor="start" stroke="#1a1a1a" stroke-width="0.1">Glycine, serine and</text>
<text x="370.2" y="312.5" font-size="6.05" fill="#1a1a1a" font-weight="bold" text-anchor="start" stroke="#1a1a1a" stroke-width="0.1">threonine metabolism</text>
<text x="345.3" y="340.2" font-size="6.05" fill="#1a1a1a" font-weight="bold" text-anchor="start" stroke="#1a1a1a" stroke-width="0.1">Arginine biosynthesis</text>
<text x="266" y="347.5" font-size="6.05" fill="#1a1a1a" font-weight="bold" text-anchor="start" stroke="#1a1a1a" stroke-width="0.1">Cysteine and</text>
<text x="266" y="354.3" font-size="6.05" fill="#1a1a1a" font-weight="bold" text-anchor="start" stroke="#1a1a1a" stroke-width="0.1">methionine metabolism</text>
<text x="314.5" y="364.9" font-size="6.05" fill="#1a1a1a" font-weight="bold" text-anchor="start" stroke="#1a1a1a" stroke-width="0.1">Purine metabolism</text>
<text x="14.1" y="408.2" font-size="10.5" fill="#111" font-weight="bold" text-anchor="start" stroke="#111" stroke-width="0.1">E</text>
<text x="112.8" y="409.7" font-size="10.45" fill="#111" font-weight="normal" text-anchor="middle">D425MED</text>
<rect x="66.20" y="481.96" width="7.40" height="41.24" fill="#2090f0" stroke="#1a1a1a" stroke-width="0.8"/>
<line x1="69.9" y1="468.63300000000004" x2="69.9" y2="495.17625000000004" stroke="#1a1a1a" stroke-width="0.9"/>
<line x1="67.7" y1="468.63300000000004" x2="72.10000000000001" y2="468.63300000000004" stroke="#1a1a1a" stroke-width="0.9"/>
<line x1="67.7" y1="495.17625000000004" x2="72.10000000000001" y2="495.17625000000004" stroke="#1a1a1a" stroke-width="0.9"/>
<rect x="77.40" y="476.67" width="7.40" height="46.53" fill="#20e020" stroke="#1a1a1a" stroke-width="0.8"/>
<line x1="81.10000000000001" y1="461.33625000000006" x2="81.10000000000001" y2="491.79225" stroke="#1a1a1a" stroke-width="0.9"/>
<line x1="78.9" y1="461.33625000000006" x2="83.30000000000001" y2="461.33625000000006" stroke="#1a1a1a" stroke-width="0.9"/>
<line x1="78.9" y1="491.79225" x2="83.30000000000001" y2="491.79225" stroke="#1a1a1a" stroke-width="0.9"/>
<rect x="89.10" y="489.36" width="7.40" height="33.84" fill="#f01010" stroke="#1a1a1a" stroke-width="0.8"/>
<line x1="92.8" y1="481.21725000000004" x2="92.8" y2="497.29125000000005" stroke="#1a1a1a" stroke-width="0.9"/>
<line x1="90.6" y1="481.21725000000004" x2="95.0" y2="481.21725000000004" stroke="#1a1a1a" stroke-width="0.9"/>
<line x1="90.6" y1="497.29125000000005" x2="95.0" y2="497.29125000000005" stroke="#1a1a1a" stroke-width="0.9"/>
<rect x="108.30" y="461.34" width="7.40" height="61.86" fill="#2090f0" stroke="#1a1a1a" stroke-width="0.8"/>
<line x1="112.0" y1="451.60725" x2="112.0" y2="470.85375000000005" stroke="#1a1a1a" stroke-width="0.9"/>
<line x1="109.8" y1="451.60725" x2="114.2" y2="451.60725" stroke="#1a1a1a" stroke-width="0.9"/>
<line x1="109.8" y1="470.85375000000005" x2="114.2" y2="470.85375000000005" stroke="#1a1a1a" stroke-width="0.9"/>
<rect x="119.60" y="454.99" width="7.40" height="68.21" fill="#20e020" stroke="#1a1a1a" stroke-width="0.8"/>
<line x1="123.3" y1="438.49425" x2="123.3" y2="471.69975000000005" stroke="#1a1a1a" stroke-width="0.9"/>
<line x1="121.1" y1="438.49425" x2="125.5" y2="438.49425" stroke="#1a1a1a" stroke-width="0.9"/>
<line x1="121.1" y1="471.69975000000005" x2="125.5" y2="471.69975000000005" stroke="#1a1a1a" stroke-width="0.9"/>
<rect x="131.20" y="489.36" width="7.40" height="33.84" fill="#f01010" stroke="#1a1a1a" stroke-width="0.8"/>
<line x1="134.89999999999998" y1="475.29525000000007" x2="134.89999999999998" y2="503.84775" stroke="#1a1a1a" stroke-width="0.9"/>
<line x1="132.7" y1="475.29525000000007" x2="137.09999999999997" y2="475.29525000000007" stroke="#1a1a1a" stroke-width="0.9"/>
<line x1="132.7" y1="503.84775" x2="137.09999999999997" y2="503.84775" stroke="#1a1a1a" stroke-width="0.9"/>
<rect x="150.30" y="507.02" width="7.40" height="16.18" fill="#2090f0" stroke="#1a1a1a" stroke-width="0.8"/>
<line x1="154.0" y1="505.2225" x2="154.0" y2="508.92375000000004" stroke="#1a1a1a" stroke-width="0.9"/>
<line x1="151.8" y1="505.2225" x2="156.2" y2="505.2225" stroke="#1a1a1a" stroke-width="0.9"/>
<line x1="151.8" y1="508.92375000000004" x2="156.2" y2="508.92375000000004" stroke="#1a1a1a" stroke-width="0.9"/>
<rect x="161.70" y="506.39" width="7.40" height="16.81" fill="#20e020" stroke="#1a1a1a" stroke-width="0.8"/>
<line x1="165.39999999999998" y1="505.857" x2="165.39999999999998" y2="506.91450000000003" stroke="#1a1a1a" stroke-width="0.9"/>
<line x1="163.2" y1="505.857" x2="167.59999999999997" y2="505.857" stroke="#1a1a1a" stroke-width="0.9"/>
<line x1="163.2" y1="506.91450000000003" x2="167.59999999999997" y2="506.91450000000003" stroke="#1a1a1a" stroke-width="0.9"/>
<rect x="173.50" y="502.47" width="7.40" height="20.73" fill="#f01010" stroke="#1a1a1a" stroke-width="0.8"/>
<line x1="177.2" y1="501.94425000000007" x2="177.2" y2="503.00175" stroke="#1a1a1a" stroke-width="0.9"/>
<line x1="175.0" y1="501.94425000000007" x2="179.39999999999998" y2="501.94425000000007" stroke="#1a1a1a" stroke-width="0.9"/>
<line x1="175.0" y1="503.00175" x2="179.39999999999998" y2="503.00175" stroke="#1a1a1a" stroke-width="0.9"/>
<line x1="60.2" y1="438.1" x2="60.2" y2="523.7" stroke="#111" stroke-width="1.2"/>
<line x1="59.6" y1="523.2" x2="186.6" y2="523.2" stroke="#111" stroke-width="1.2"/>
<line x1="57.300000000000004" y1="523.2" x2="60.2" y2="523.2" stroke="#111" stroke-width="1.0"/>
<text x="57.0" y="525.56" font-size="6.56" fill="#111" font-weight="bold" text-anchor="end" stroke="#111" stroke-width="0.1">0</text>
<line x1="57.300000000000004" y1="502.05000000000007" x2="60.2" y2="502.05000000000007" stroke="#111" stroke-width="1.0"/>
<text x="57.0" y="504.41" font-size="6.56" fill="#111" font-weight="bold" text-anchor="end" stroke="#111" stroke-width="0.1">20</text>
<line x1="57.300000000000004" y1="480.90000000000003" x2="60.2" y2="480.90000000000003" stroke="#111" stroke-width="1.0"/>
<text x="57.0" y="483.26" font-size="6.56" fill="#111" font-weight="bold" text-anchor="end" stroke="#111" stroke-width="0.1">40</text>
<line x1="57.300000000000004" y1="459.75000000000006" x2="60.2" y2="459.75000000000006" stroke="#111" stroke-width="1.0"/>
<text x="57.0" y="462.11" font-size="6.56" fill="#111" font-weight="bold" text-anchor="end" stroke="#111" stroke-width="0.1">60</text>
<line x1="57.300000000000004" y1="438.6" x2="60.2" y2="438.6" stroke="#111" stroke-width="1.0"/>
<text x="57.0" y="440.96" font-size="6.56" fill="#111" font-weight="bold" text-anchor="end" stroke="#111" stroke-width="0.1">80</text>
<line x1="81.10000000000001" y1="523.2" x2="81.10000000000001" y2="526.2" stroke="#111" stroke-width="1.0"/>
<line x1="123.3" y1="523.2" x2="123.3" y2="526.2" stroke="#111" stroke-width="1.0"/>
<line x1="165.39999999999998" y1="523.2" x2="165.39999999999998" y2="526.2" stroke="#111" stroke-width="1.0"/>
<text x="45.8" y="480.9" font-size="7.05" fill="#111" font-weight="bold" text-anchor="middle" transform="rotate(-90 45.8 480.9)" stroke="#111" stroke-width="0.1">Normalized intensities</text>
<line x1="70.6" y1="449.7" x2="95.3" y2="449.7" stroke="#111" stroke-width="1.2"/>
<text x="82.9" y="450.4" font-size="7.5" fill="#111" font-weight="bold" text-anchor="middle" stroke="#111" stroke-width="0.1">*</text>
<line x1="80.6" y1="458.7" x2="95.3" y2="458.7" stroke="#111" stroke-width="1.2"/>
<text x="87.9" y="459.6" font-size="7.5" fill="#111" font-weight="bold" text-anchor="middle" stroke="#111" stroke-width="0.1">*</text>
<line x1="112.2" y1="424.9" x2="138.4" y2="424.9" stroke="#111" stroke-width="1.2"/>
<text x="126" y="422.6" font-size="8" fill="#111" font-weight="bold" text-anchor="middle" stroke="#111" stroke-width="0.1">n.s</text>
<line x1="123.7" y1="434.6" x2="138.8" y2="434.6" stroke="#111" stroke-width="1.2"/>
<text x="131.1" y="432.0" font-size="8" fill="#111" font-weight="bold" text-anchor="middle" stroke="#111" stroke-width="0.1">n.s</text>
<line x1="153" y1="486" x2="177.9" y2="486" stroke="#111" stroke-width="1.2"/>
<text x="165.9" y="483.2" font-size="7.5" fill="#111" font-weight="bold" text-anchor="middle" stroke="#111" stroke-width="0.1">*</text>
<line x1="163.3" y1="495.6" x2="177.9" y2="495.6" stroke="#111" stroke-width="1.2"/>
<text x="170.9" y="495.1" font-size="7.5" fill="#111" font-weight="bold" text-anchor="middle" stroke="#111" stroke-width="0.1">**</text>
<text x="81.3" y="533.2" font-size="6.7" fill="#222" font-weight="normal" text-anchor="middle">Glutamine</text>
<text x="121.8" y="533.2" font-size="6.7" fill="#222" font-weight="normal" text-anchor="middle">Glutamate</text>
<text x="165.6" y="533.2" font-size="6.7" fill="#222" font-weight="normal" text-anchor="middle">Glutathione</text>
<rect x="40.30" y="539.90" width="12.30" height="5.00" fill="#2090f0" stroke="#111" stroke-width="0.9"/>
<text x="54.5" y="545.0" font-size="6.9" fill="#111" font-weight="bold" text-anchor="start" stroke="#111" stroke-width="0.1">CTL CB</text>
<rect x="94.30" y="539.90" width="12.50" height="5.00" fill="#20e020" stroke="#111" stroke-width="0.9"/>
<text x="108.5" y="545.0" font-size="6.9" fill="#111" font-weight="bold" text-anchor="start" stroke="#111" stroke-width="0.1">CTL CTX</text>
<rect x="151.80" y="539.90" width="12.50" height="5.00" fill="#f01010" stroke="#111" stroke-width="0.9"/>
<text x="165.7" y="545.0" font-size="6.9" fill="#111" font-weight="bold" text-anchor="start" stroke="#111" stroke-width="0.1">D425MED Brain</text>
<text x="240" y="408.2" font-size="10.5" fill="#111" font-weight="bold" text-anchor="start" stroke="#111" stroke-width="0.1">F</text>
<text x="330.9" y="411.5" font-size="10" fill="#111" font-weight="normal" text-anchor="middle">MED211</text>
<rect x="280.60" y="448.83" width="8.00" height="70.47" fill="#1878f0" stroke="#1a1a1a" stroke-width="0.8"/>
<line x1="284.6" y1="446.23999999999995" x2="284.6" y2="451.18559999999997" stroke="#1a1a1a" stroke-width="0.9"/>
<line x1="282.40000000000003" y1="446.23999999999995" x2="286.8" y2="446.23999999999995" stroke="#1a1a1a" stroke-width="0.9"/>
<line x1="282.40000000000003" y1="451.18559999999997" x2="286.8" y2="451.18559999999997" stroke="#1a1a1a" stroke-width="0.9"/>
<rect x="292.70" y="443.99" width="8.00" height="75.31" fill="#10b828" stroke="#1a1a1a" stroke-width="0.8"/>
<line x1="296.7" y1="441.29439999999994" x2="296.7" y2="446.80199999999996" stroke="#1a1a1a" stroke-width="0.9"/>
<line x1="294.5" y1="441.29439999999994" x2="298.9" y2="441.29439999999994" stroke="#1a1a1a" stroke-width="0.9"/>
<line x1="294.5" y1="446.80199999999996" x2="298.9" y2="446.80199999999996" stroke="#1a1a1a" stroke-width="0.9"/>
<rect x="305.10" y="483.33" width="8.00" height="35.97" fill="#f04040" stroke="#1a1a1a" stroke-width="0.8"/>
<line x1="309.1" y1="469.84399999999994" x2="309.1" y2="497.26959999999997" stroke="#1a1a1a" stroke-width="0.9"/>
<line x1="306.90000000000003" y1="469.84399999999994" x2="311.3" y2="469.84399999999994" stroke="#1a1a1a" stroke-width="0.9"/>
<line x1="306.90000000000003" y1="497.26959999999997" x2="311.3" y2="497.26959999999997" stroke="#1a1a1a" stroke-width="0.9"/>
<rect x="325.40" y="480.63" width="8.00" height="38.67" fill="#1878f0" stroke="#1a1a1a" stroke-width="0.8"/>
<line x1="329.4" y1="478.27399999999994" x2="329.4" y2="482.99479999999994" stroke="#1a1a1a" stroke-width="0.9"/>
<line x1="327.2" y1="478.27399999999994" x2="331.59999999999997" y2="478.27399999999994" stroke="#1a1a1a" stroke-width="0.9"/>
<line x1="327.2" y1="482.99479999999994" x2="331.59999999999997" y2="482.99479999999994" stroke="#1a1a1a" stroke-width="0.9"/>
<rect x="337.40" y="472.09" width="8.00" height="47.21" fill="#10b828" stroke="#1a1a1a" stroke-width="0.8"/>
<line x1="341.4" y1="463.9992" x2="341.4" y2="480.18479999999994" stroke="#1a1a1a" stroke-width="0.9"/>
<line x1="339.2" y1="463.9992" x2="343.59999999999997" y2="463.9992" stroke="#1a1a1a" stroke-width="0.9"/>
<line x1="339.2" y1="480.18479999999994" x2="343.59999999999997" y2="480.18479999999994" stroke="#1a1a1a" stroke-width="0.9"/>
<rect x="349.70" y="494.12" width="8.00" height="25.18" fill="#f04040" stroke="#1a1a1a" stroke-width="0.8"/>
<line x1="353.7" y1="490.52559999999994" x2="353.7" y2="498.1688" stroke="#1a1a1a" stroke-width="0.9"/>
<line x1="351.5" y1="490.52559999999994" x2="355.9" y2="490.52559999999994" stroke="#1a1a1a" stroke-width="0.9"/>
<line x1="351.5" y1="498.1688" x2="355.9" y2="498.1688" stroke="#1a1a1a" stroke-width="0.9"/>
<rect x="370.00" y="498.39" width="8.00" height="20.91" fill="#1878f0" stroke="#1a1a1a" stroke-width="0.8"/>
<line x1="374.0" y1="496.37039999999996" x2="374.0" y2="501.54079999999993" stroke="#1a1a1a" stroke-width="0.9"/>
<line x1="371.8" y1="496.37039999999996" x2="376.2" y2="496.37039999999996" stroke="#1a1a1a" stroke-width="0.9"/>
<line x1="371.8" y1="501.54079999999993" x2="376.2" y2="501.54079999999993" stroke="#1a1a1a" stroke-width="0.9"/>
<rect x="382.60" y="499.74" width="8.00" height="19.56" fill="#10b828" stroke="#1a1a1a" stroke-width="0.8"/>
<line x1="386.6" y1="497.38199999999995" x2="386.6" y2="502.8896" stroke="#1a1a1a" stroke-width="0.9"/>
<line x1="384.40000000000003" y1="497.38199999999995" x2="388.8" y2="497.38199999999995" stroke="#1a1a1a" stroke-width="0.9"/>
<line x1="384.40000000000003" y1="502.8896" x2="388.8" y2="502.8896" stroke="#1a1a1a" stroke-width="0.9"/>
<rect x="394.90" y="493.34" width="8.00" height="25.96" fill="#f04040" stroke="#1a1a1a" stroke-width="0.8"/>
<line x1="398.9" y1="492.09919999999994" x2="398.9" y2="494.57199999999995" stroke="#1a1a1a" stroke-width="0.9"/>
<line x1="396.7" y1="492.09919999999994" x2="401.09999999999997" y2="492.09919999999994" stroke="#1a1a1a" stroke-width="0.9"/>
<line x1="396.7" y1="494.57199999999995" x2="401.09999999999997" y2="494.57199999999995" stroke="#1a1a1a" stroke-width="0.9"/>
<line x1="273.8" y1="428.87999999999994" x2="273.8" y2="519.8" stroke="#111" stroke-width="1.2"/>
<line x1="273.2" y1="519.3" x2="408.6" y2="519.3" stroke="#111" stroke-width="1.2"/>
<line x1="270.90000000000003" y1="519.3" x2="273.8" y2="519.3" stroke="#111" stroke-width="1.0"/>
<text x="270.6" y="521.66" font-size="6.56" fill="#111" font-weight="bold" text-anchor="end" stroke="#111" stroke-width="0.1">0</text>
<line x1="270.90000000000003" y1="496.81999999999994" x2="273.8" y2="496.81999999999994" stroke="#111" stroke-width="1.0"/>
<text x="270.6" y="499.18" font-size="6.56" fill="#111" font-weight="bold" text-anchor="end" stroke="#111" stroke-width="0.1">20</text>
<line x1="270.90000000000003" y1="474.3399999999999" x2="273.8" y2="474.3399999999999" stroke="#111" stroke-width="1.0"/>
<text x="270.6" y="476.7" font-size="6.56" fill="#111" font-weight="bold" text-anchor="end" stroke="#111" stroke-width="0.1">40</text>
<line x1="270.90000000000003" y1="451.85999999999996" x2="273.8" y2="451.85999999999996" stroke="#111" stroke-width="1.0"/>
<text x="270.6" y="454.22" font-size="6.56" fill="#111" font-weight="bold" text-anchor="end" stroke="#111" stroke-width="0.1">60</text>
<line x1="270.90000000000003" y1="429.37999999999994" x2="273.8" y2="429.37999999999994" stroke="#111" stroke-width="1.0"/>
<text x="270.6" y="431.74" font-size="6.56" fill="#111" font-weight="bold" text-anchor="end" stroke="#111" stroke-width="0.1">80</text>
<line x1="296.7" y1="519.3" x2="296.7" y2="522.3" stroke="#111" stroke-width="1.0"/>
<line x1="341.4" y1="519.3" x2="341.4" y2="522.3" stroke="#111" stroke-width="1.0"/>
<line x1="386.6" y1="519.3" x2="386.6" y2="522.3" stroke="#111" stroke-width="1.0"/>
<text x="258.9" y="474.34" font-size="7.45" fill="#111" font-weight="bold" text-anchor="middle" transform="rotate(-90 258.9 474.34)" stroke="#111" stroke-width="0.1">Normalized intensities</text>
<line x1="286" y1="428.6" x2="312.6" y2="428.6" stroke="#111" stroke-width="1.2"/>
<text x="300.9" y="429.0" font-size="7.7" fill="#111" font-weight="bold" text-anchor="middle" stroke="#111" stroke-width="0.1">**</text>
<line x1="296.6" y1="436.4" x2="313.3" y2="436.4" stroke="#111" stroke-width="1.2"/>
<text x="305.7" y="437.0" font-size="7.7" fill="#111" font-weight="bold" text-anchor="middle" stroke="#111" stroke-width="0.1">***</text>
<line x1="332" y1="453.6" x2="357.9" y2="453.6" stroke="#111" stroke-width="1.2"/>
<text x="346" y="453.9" font-size="7.7" fill="#111" font-weight="bold" text-anchor="middle" stroke="#111" stroke-width="0.1">***</text>
<line x1="342.6" y1="462.4" x2="358.9" y2="462.4" stroke="#111" stroke-width="1.2"/>
<text x="350.9" y="463.3" font-size="7.7" fill="#111" font-weight="bold" text-anchor="middle" stroke="#111" stroke-width="0.1">**</text>
<line x1="370.9" y1="476.3" x2="396.8" y2="476.3" stroke="#111" stroke-width="1.2"/>
<text x="383.5" y="476.2" font-size="7.7" fill="#111" font-weight="bold" text-anchor="middle" stroke="#111" stroke-width="0.1">*</text>
<line x1="381.3" y1="484.9" x2="397.8" y2="484.9" stroke="#111" stroke-width="1.2"/>
<text x="388.5" y="485.8" font-size="7.7" fill="#111" font-weight="bold" text-anchor="middle" stroke="#111" stroke-width="0.1">*</text>
<text x="300.3" y="530.9" font-size="6.7" fill="#222" font-weight="normal" text-anchor="middle">Glutamine</text>
<text x="341.4" y="530.9" font-size="6.7" fill="#222" font-weight="normal" text-anchor="middle">Glutamate</text>
<text x="385.6" y="530.9" font-size="6.7" fill="#222" font-weight="normal" text-anchor="middle">Glutathione</text>
<rect x="252.90" y="539.60" width="12.60" height="5.00" fill="#1878f0" stroke="#111" stroke-width="0.9"/>
<text x="266.9" y="544.7" font-size="7.3" fill="#111" font-weight="bold" text-anchor="start" stroke="#111" stroke-width="0.1">CTL CB</text>
<rect x="309.20" y="539.60" width="13.00" height="5.00" fill="#10b828" stroke="#111" stroke-width="0.9"/>
<text x="323.6" y="544.7" font-size="7.3" fill="#111" font-weight="bold" text-anchor="start" stroke="#111" stroke-width="0.1">CTL CTX</text>
<rect x="370.10" y="539.60" width="12.80" height="5.00" fill="#f04040" stroke="#111" stroke-width="0.9"/>
<text x="384.2" y="544.7" font-size="7.3" fill="#111" font-weight="bold" text-anchor="start" stroke="#111" stroke-width="0.1">MED211 Brain</text>
</svg></body></html>
